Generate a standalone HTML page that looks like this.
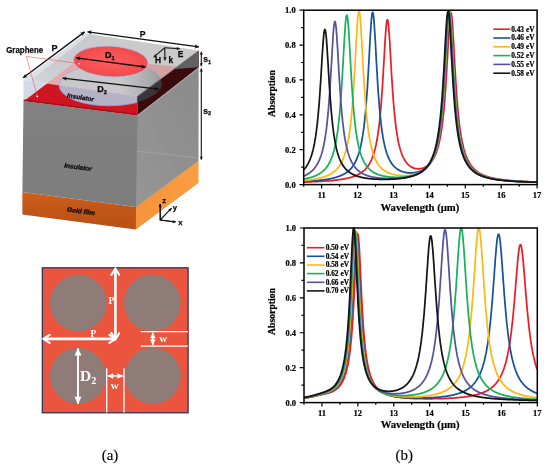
<!DOCTYPE html>
<html><head><meta charset="utf-8"><title>Figure</title>
<style>
html,body{margin:0;padding:0;background:#fff;}
body{width:550px;height:469px;overflow:hidden;}
svg{display:block;filter:blur(0.3px);}
</style></head><body>
<svg width="550" height="469" viewBox="0 0 550 469">
<rect width="550" height="469" fill="#fff"/>
<g id="fig3d">
<defs>
<linearGradient id="gR" x1="0" y1="1" x2="1" y2="0"><stop offset="0" stop-color="#969696"/><stop offset="0.5" stop-color="#909090"/><stop offset="1" stop-color="#8b8b8b"/></linearGradient>
<linearGradient id="gF" x1="0" y1="0" x2="0" y2="1"><stop offset="0" stop-color="#818181"/><stop offset="1" stop-color="#7d7d7d"/></linearGradient>
<linearGradient id="gGoldR" x1="0" y1="0" x2="1" y2="0"><stop offset="0" stop-color="#f5933a"/><stop offset="1" stop-color="#fa9d42"/></linearGradient>
<linearGradient id="gGoldF" x1="0" y1="0" x2="0" y2="1"><stop offset="0" stop-color="#d2601d"/><stop offset="0.45" stop-color="#c15617"/><stop offset="1" stop-color="#b95015"/></linearGradient>
<radialGradient id="gD1" cx="0.5" cy="0.5" r="0.6"><stop offset="0" stop-color="#ff5e5e"/><stop offset="1" stop-color="#ef4448"/></radialGradient>
<linearGradient id="gTop" x1="0" y1="1" x2="1" y2="0"><stop offset="0" stop-color="#dde2ea" stop-opacity="0.9"/><stop offset="0.35" stop-color="#d0d2d6" stop-opacity="0.3"/><stop offset="1" stop-color="#c6c6c6" stop-opacity="0"/></linearGradient>
<linearGradient id="gD2" gradientUnits="userSpaceOnUse" x1="120" y1="0" x2="165" y2="0"><stop offset="0" stop-color="#88888c" stop-opacity="0"/><stop offset="1" stop-color="#77777b" stop-opacity="0.6"/></linearGradient>
<clipPath id="cFront"><path d="M23.5,80 L137.5,96.2 L137.5,115.6 L23.5,100.9 Z"/></clipPath>
<clipPath id="cTop"><path d="M23.5,80 L85.5,33.6 L198.7,50.4 L137.5,96.2 Z"/></clipPath>
<clipPath id="cTopFront"><path d="M23.5,80 L85.5,33.6 L198.7,50.4 L137.5,96.2 L137.5,115.6 L23.5,100.9Z"/></clipPath>
<clipPath id="cSide"><path d="M137.5,96.2 L198.7,50.4 L198.7,67.3 L137.5,115.1 Z"/></clipPath>
<marker id="ab" viewBox="0 0 10 10" refX="9" refY="5" markerWidth="3.8" markerHeight="3.4" orient="auto-start-reverse" markerUnits="strokeWidth">
<path d="M0,0.5 L10,5 L0,9.5 L2.5,5 Z" fill="#111"/>
</marker>
</defs>
<!-- gold + gray block -->
<path d="M133,208.5 L135.9,206.8 L198.5,160.8 L198.5,183 L135.8,229.4 L133,228 Z" fill="url(#gGoldR)"/>
<path d="M22.4,192 L136,207 L135.8,229.4 L22.4,214.5 Z" fill="url(#gGoldF)"/>
<path d="M134,114 L137.5,115 L198.7,67.2 L198.5,160.9 L136,207.1 L134,207 Z" fill="url(#gR)"/>
<path d="M23.5,100.3 L137.5,115 L136,207.1 L22.4,192.1 Z" fill="url(#gF)"/>
<path d="M137,151 L198.6,158" stroke="#b5b5b5" stroke-width="0.6" fill="none" opacity="0.8"/>
<!-- glass front: bluish -->
<path d="M23.5,80 L137.5,96.2 L137.5,115.6 L23.5,100.9 Z" fill="#d2dae6"/>
<!-- top face -->
<path d="M23.5,80 L85.5,33.6 L198.7,50.4 L137.5,96.2 Z" fill="#cacacb"/>
<path d="M23.5,80 L85.5,33.6 L198.7,50.4 L137.5,96.2 Z" fill="url(#gTop)"/>
<path d="M23.5,80 L85.5,33.6 L88.6,35 L29.8,81 Z" fill="#dfe3ea" opacity="0.85"/>
<!-- bottom red layer seen through top (pink) -->
<g clip-path="url(#cTop)">
<path d="M26,99.5 L81.4,57.4 L199,68.7 L137.5,115.1 Z" fill="#d3a2a3"/>
<path d="M26,99.5 L81.4,57.4 L110,60 L80,100 Z" fill="#e8a9aa"/>
</g>
<!-- bottom red layer seen through front (red) -->
<g clip-path="url(#cFront)">
<path d="M26,99.5 L81.4,57.4 L199,68.7 L137.5,115.6 L23.5,100.9 Z" fill="#cf1522"/>
<path d="M23.5,100.9 L26,99.5 L137.5,115.6 Z" fill="#cf1522"/>
</g>
<path d="M23.5,99.6 L137.5,113.9 L137.5,115.6 L23.5,100.9 Z" fill="#a50f18" clip-path="url(#cFront)"/>
<!-- D2 ellipse (hole) -->
<g clip-path="url(#cTop)">
<ellipse cx="110.8" cy="84.5" rx="51.6" ry="21.3" transform="rotate(-1 110.8 84.5)" fill="#c8c7ca" stroke="#9db0dc" stroke-width="0.8"/>
<ellipse cx="110.8" cy="84.5" rx="51.6" ry="21.3" transform="rotate(-1 110.8 84.5)" fill="url(#gD2)"/>
</g>
<g clip-path="url(#cFront)">
<ellipse cx="110.8" cy="84.5" rx="51.6" ry="21.3" transform="rotate(-1 110.8 84.5)" fill="#b5b1c6" stroke="#93a6d6" stroke-width="0.8"/>
</g>
<path d="M23.5,80 L137.5,96.2" stroke="#e4e6ec" stroke-width="0.5" opacity="0.7"/>
<!-- right side of glass -->
<path d="M137.5,96.2 L198.7,50.4 L198.7,67.3 L137.5,115.1 Z" fill="#3b0a0c"/>
<g clip-path="url(#cSide)">
<path d="M198.7,50.4 L198.7,67.2 L172.5,69.3 Z" fill="#606062"/>
<ellipse cx="110.3" cy="84.3" rx="51.6" ry="21.3" transform="rotate(-1 110.3 84.3)" fill="#3a3a3e" opacity="0.9"/>
<path d="M137.5,96.4 L198.7,50.6" stroke="#8a8a8c" stroke-width="0.8"/>
</g>
<path d="M137.5,115.7 L198.7,67.9" stroke="#b2b2b2" stroke-width="0.8"/>
<!-- D1 ellipse -->
<ellipse cx="110.8" cy="61.5" rx="37.3" ry="15.3" transform="rotate(3 110.8 61.5)" fill="url(#gD1)" stroke="#a9bbe6" stroke-width="0.8"/>
<!-- arrows -->
<g stroke="#111" stroke-width="1.35" fill="none">
<line x1="23.2" y1="77.8" x2="84.6" y2="31.9" marker-start="url(#ab)" marker-end="url(#ab)"/>
<line x1="87.6" y1="31.8" x2="198.8" y2="46.9" marker-start="url(#ab)" marker-end="url(#ab)"/>
<line x1="76.2" y1="57.9" x2="145.4" y2="67" marker-start="url(#ab)" marker-end="url(#ab)"/>
<line x1="62.7" y1="78.2" x2="158.7" y2="89.2" marker-start="url(#ab)" marker-end="url(#ab)"/>
<line x1="201.3" y1="51.8" x2="201.3" y2="66.2" stroke-width="1.1" marker-start="url(#ab)" marker-end="url(#ab)"/>
<line x1="201.3" y1="68.6" x2="201.3" y2="159.6" stroke-width="1.1" marker-start="url(#ab)" marker-end="url(#ab)"/>
<g stroke-width="1.1">
<line x1="164.5" y1="47.8" x2="179.8" y2="48.7" marker-end="url(#ab)"/>
<line x1="164.7" y1="47.8" x2="165" y2="60.3" marker-end="url(#ab)"/>
<line x1="164.5" y1="47.8" x2="153.8" y2="57.2" marker-end="url(#ab)"/>
<path d="M160.2,204 V220 L175.5,222 M160.2,220 L171.5,208.2" marker-end="url(#ab)"/>
<line x1="160.2" y1="220" x2="160.2" y2="204" marker-end="url(#ab)"/>
<line x1="160.2" y1="220" x2="175.5" y2="222" marker-end="url(#ab)"/>
</g>
</g>
<!-- graphene pointers -->
<g stroke="#e85a5a" stroke-width="0.6" fill="none">
<path d="M26.4,56.4 L79,63.6 M26.4,56.4 L37.3,96.4"/>
</g>
<circle cx="79" cy="63.6" r="0.9" fill="#fff"/><circle cx="37.3" cy="96.4" r="0.9" fill="#fff"/>
<!-- labels -->
<g font-family="'Liberation Sans', sans-serif" font-weight="bold" fill="#0a0a0a" stroke="#0a0a0a" stroke-width="0.25">
<text x="6.2" y="53.2" font-size="9" textLength="37" lengthAdjust="spacingAndGlyphs">Graphene</text>
<text x="51.4" y="51.2" font-size="9">P</text>
<text x="139.8" y="36.5" font-size="8.6">P</text>
<text x="105" y="58.2" font-size="9">D<tspan font-size="5.8" dy="1.5">1</tspan></text>
<text x="97.3" y="92.2" font-size="9">D<tspan font-size="5.8" dy="1.5">2</tspan></text>
<text x="155" y="62.6" font-size="8.4">H</text>
<text x="168.6" y="62.6" font-size="8.4">k</text>
<text x="177.8" y="56.8" font-size="8.4">E</text>
<text x="203.3" y="62.3" font-size="8.5">s<tspan font-size="5.6" dy="1.3">1</tspan></text>
<text x="203.3" y="113.8" font-size="8.5">s<tspan font-size="5.6" dy="1.3">2</tspan></text>
<text x="162.3" y="202.6" font-size="7.6">z</text>
<text x="172.8" y="209.6" font-size="7.6">y</text>
<text x="178.2" y="224.6" font-size="7.6">x</text>
<g font-style="italic">
<text font-size="6.4" transform="translate(66.8,97.3) rotate(9)">Insulator</text>
<text font-size="6.6" transform="translate(64,167.6) rotate(7)">Insulator</text>
<text font-size="6.5" transform="translate(66.8,211.6) rotate(7.5)">Gold film</text>
</g>
</g>
</g>

<g id="fig2d">
<defs>
<marker id="aw" viewBox="0 0 10 10" refX="8" refY="5" markerWidth="10" markerHeight="10" orient="auto-start-reverse" markerUnits="userSpaceOnUse">
<path d="M2.4,1 L8.6,5 L2.4,9" fill="none" stroke="#fff" stroke-width="2.1" stroke-linecap="round" stroke-linejoin="miter"/>
</marker>
<marker id="aws" viewBox="0 0 10 10" refX="9" refY="5" markerWidth="4.6" markerHeight="4.6" orient="auto-start-reverse" markerUnits="strokeWidth">
<path d="M1,1 L9.5,5 L1,9 Z" fill="#fff"/>
</marker>
</defs>
<rect x="42.3" y="267.8" width="145.8" height="145" fill="#eb553e" stroke="#232a55" stroke-width="1.2"/>
<g fill="#8f7c79">
<circle cx="78.3" cy="303" r="28.4"/>
<circle cx="152.3" cy="302.8" r="28.4"/>
<circle cx="78" cy="375.9" r="28"/>
<circle cx="152.8" cy="375.9" r="28"/>
</g>
<g stroke="#fff" fill="none" stroke-linecap="butt">
<line x1="115.4" y1="269.3" x2="115.4" y2="338.6" stroke-width="2.6" marker-start="url(#aw)" marker-end="url(#aw)"/>
<line x1="44" y1="338.9" x2="115" y2="338.9" stroke-width="2.6" marker-start="url(#aw)" marker-end="url(#aw)"/>
<line x1="78" y1="348.5" x2="78" y2="403.8" stroke-width="1.9" marker-start="url(#aws)" marker-end="url(#aws)"/>
<path d="M140.7,331.7H188 M140.7,346.1H188" stroke-width="1.3"/>
<path d="M106.7,368.2V412.5 M124,368.2V412.5" stroke-width="1.3"/>
<line x1="152.8" y1="332.8" x2="152.8" y2="345" stroke-width="1.5" marker-start="url(#aws)" marker-end="url(#aws)"/>
<line x1="107.8" y1="375.9" x2="122.9" y2="375.9" stroke-width="1.5" marker-start="url(#aws)" marker-end="url(#aws)"/>
</g>
<g font-family="'Liberation Serif', serif" font-weight="bold" fill="#fff">
<text x="108.6" y="304" font-size="9.5">P</text>
<text x="90.4" y="337" font-size="9.5">P</text>
<text x="80" y="381" font-size="15.5">D<tspan font-size="10" dy="3">2</tspan></text>
<text x="163.3" y="342.2" font-size="11" text-anchor="middle">w</text>
<text x="114.8" y="389" font-size="11" text-anchor="middle">w</text>
</g>
</g>

<g>
<clipPath id="clip10"><rect x="303.7" y="9.2" width="233.4" height="175.4"/></clipPath>
<g clip-path="url(#clip10)" fill="none" stroke-width="1.75" stroke-linejoin="round">
<polyline stroke="#ee1c25" points="303.7,182.1 304.1,182.0 304.4,182.0 304.8,182.0 305.1,182.0 305.5,182.0 305.9,182.0 306.2,182.0 306.6,182.0 306.9,182.0 307.3,181.9 307.7,181.9 308.0,181.9 308.4,181.9 308.7,181.9 309.1,181.9 309.5,181.9 309.8,181.8 310.2,181.8 310.5,181.8 310.9,181.8 311.3,181.8 311.6,181.8 312.0,181.8 312.3,181.7 312.7,181.7 313.1,181.7 313.4,181.7 313.8,181.7 314.1,181.7 314.5,181.7 314.8,181.6 315.2,181.6 315.6,181.6 315.9,181.6 316.3,181.6 316.6,181.6 317.0,181.5 317.4,181.5 317.7,181.5 318.1,181.5 318.4,181.5 318.8,181.4 319.2,181.4 319.5,181.4 319.9,181.4 320.2,181.4 320.6,181.3 321.0,181.3 321.3,181.3 321.7,181.3 322.0,181.3 322.4,181.2 322.8,181.2 323.1,181.2 323.5,181.2 323.8,181.1 324.2,181.1 324.6,181.1 324.9,181.1 325.3,181.0 325.6,181.0 326.0,181.0 326.4,181.0 326.7,180.9 327.1,180.9 327.4,180.9 327.8,180.9 328.2,180.8 328.5,180.8 328.9,180.8 329.2,180.7 329.6,180.7 330.0,180.7 330.3,180.7 330.7,180.6 331.0,180.6 331.4,180.6 331.8,180.5 332.1,180.5 332.5,180.5 332.8,180.4 333.2,180.4 333.5,180.4 333.9,180.3 334.3,180.3 334.6,180.2 335.0,180.2 335.3,180.2 335.7,180.1 336.1,180.1 336.4,180.0 336.8,180.0 337.1,179.9 337.5,179.9 337.9,179.9 338.2,179.8 338.6,179.8 338.9,179.7 339.3,179.7 339.7,179.6 340.0,179.6 340.4,179.5 340.7,179.5 341.1,179.4 341.5,179.3 341.8,179.3 342.2,179.2 342.5,179.2 342.9,179.1 343.3,179.1 343.6,179.0 344.0,178.9 344.3,178.9 344.7,178.8 345.1,178.7 345.4,178.7 345.8,178.6 346.1,178.5 346.5,178.4 346.9,178.4 347.2,178.3 347.6,178.2 347.9,178.1 348.3,178.0 348.7,177.9 349.0,177.8 349.4,177.8 349.7,177.7 350.1,177.6 350.5,177.5 350.8,177.4 351.2,177.3 351.5,177.2 351.9,177.0 352.3,176.9 352.6,176.8 353.0,176.7 353.3,176.6 353.7,176.4 354.0,176.3 354.4,176.2 354.8,176.0 355.1,175.9 355.5,175.8 355.8,175.6 356.2,175.5 356.6,175.3 356.9,175.1 357.3,175.0 357.6,174.8 358.0,174.6 358.4,174.4 358.7,174.2 359.1,174.0 359.4,173.8 359.8,173.6 360.2,173.4 360.5,173.2 360.9,173.0 361.2,172.7 361.6,172.5 362.0,172.2 362.3,171.9 362.7,171.7 363.0,171.4 363.4,171.1 363.8,170.8 364.1,170.5 364.5,170.1 364.8,169.8 365.2,169.4 365.6,169.0 365.9,168.6 366.3,168.2 366.6,167.8 367.0,167.4 367.4,166.9 367.7,166.4 368.1,165.9 368.4,165.4 368.8,164.8 369.2,164.3 369.5,163.7 369.9,163.0 370.2,162.4 370.6,161.7 371.0,160.9 371.3,160.2 371.7,159.3 372.0,158.5 372.4,157.6 372.7,156.6 373.1,155.6 373.5,154.6 373.8,153.4 374.2,152.2 374.5,151.0 374.9,149.6 375.3,148.2 375.6,146.7 376.0,145.0 376.3,143.3 376.7,141.5 377.1,139.5 377.4,137.4 377.8,135.1 378.1,132.7 378.5,130.1 378.9,127.3 379.2,124.3 379.6,121.1 379.9,117.6 380.3,114.0 380.7,110.0 381.0,105.7 381.4,101.2 381.7,96.4 382.1,91.2 382.5,85.8 382.8,80.1 383.2,74.2 383.5,68.0 383.9,61.7 384.3,55.4 384.6,49.1 385.0,43.0 385.3,37.3 385.7,32.1 386.1,27.6 386.4,24.0 386.8,21.5 387.1,20.1 387.5,19.9 387.9,20.9 388.2,23.1 388.6,26.3 388.9,30.5 389.3,35.5 389.7,41.0 390.0,47.0 390.4,53.2 390.7,59.5 391.1,65.7 391.4,71.9 391.8,77.9 392.2,83.6 392.5,89.0 392.9,94.2 393.2,99.1 393.6,103.7 394.0,107.9 394.3,111.9 394.7,115.6 395.0,119.1 395.4,122.3 395.8,125.3 396.1,128.1 396.5,130.7 396.8,133.1 397.2,135.4 397.6,137.5 397.9,139.5 398.3,141.3 398.6,143.0 399.0,144.6 399.4,146.1 399.7,147.5 400.1,148.8 400.4,150.0 400.8,151.2 401.2,152.3 401.5,153.3 401.9,154.3 402.2,155.2 402.6,156.0 403.0,156.8 403.3,157.6 403.7,158.3 404.0,159.0 404.4,159.6 404.8,160.2 405.1,160.8 405.5,161.3 405.8,161.8 406.2,162.3 406.6,162.8 406.9,163.2 407.3,163.6 407.6,164.0 408.0,164.4 408.4,164.7 408.7,165.1 409.1,165.4 409.4,165.7 409.8,165.9 410.2,166.2 410.5,166.4 410.9,166.7 411.2,166.9 411.6,167.1 411.9,167.3 412.3,167.4 412.7,167.6 413.0,167.8 413.4,167.9 413.7,168.0 414.1,168.2 414.5,168.3 414.8,168.4 415.2,168.5 415.5,168.5 415.9,168.6 416.3,168.7 416.6,168.7 417.0,168.7 417.3,168.8 417.7,168.8 418.1,168.8 418.4,168.8 418.8,168.8 419.1,168.8 419.5,168.8 419.9,168.7 420.2,168.7 420.6,168.7 420.9,168.6 421.3,168.5 421.7,168.5 422.0,168.4 422.4,168.3 422.7,168.2 423.1,168.0 423.5,167.9 423.8,167.8 424.2,167.6 424.5,167.5 424.9,167.3 425.3,167.1 425.6,166.9 426.0,166.7 426.3,166.5 426.7,166.3 427.1,166.0 427.4,165.8 427.8,165.5 428.1,165.2 428.5,164.9 428.9,164.6 429.2,164.3 429.6,163.9 429.9,163.6 430.3,163.2 430.6,162.7 431.0,162.3 431.4,161.9 431.7,161.4 432.1,160.9 432.4,160.3 432.8,159.8 433.2,159.2 433.5,158.6 433.9,157.9 434.2,157.2 434.6,156.5 435.0,155.7 435.3,154.9 435.7,154.1 436.0,153.2 436.4,152.2 436.8,151.2 437.1,150.1 437.5,149.0 437.8,147.8 438.2,146.5 438.6,145.2 438.9,143.7 439.3,142.2 439.6,140.6 440.0,138.8 440.4,137.0 440.7,135.0 441.1,132.8 441.4,130.6 441.8,128.1 442.2,125.5 442.5,122.7 442.9,119.6 443.2,116.4 443.6,112.9 444.0,109.1 444.3,105.1 444.7,100.7 445.0,96.1 445.4,91.1 445.8,85.9 446.1,80.3 446.5,74.4 446.8,68.2 447.2,61.8 447.6,55.2 447.9,48.6 448.3,42.1 448.6,35.8 449.0,29.8 449.4,24.5 449.7,20.0 450.1,16.4 450.4,14.0 450.8,12.9 451.1,13.1 451.5,14.6 451.9,17.4 452.2,21.2 452.6,26.0 452.9,31.6 453.3,37.7 453.7,44.1 454.0,50.7 454.4,57.4 454.7,63.9 455.1,70.3 455.5,76.5 455.8,82.3 456.2,87.9 456.5,93.1 456.9,98.0 457.3,102.6 457.6,106.9 458.0,110.9 458.3,114.7 458.7,118.2 459.1,121.4 459.4,124.4 459.8,127.2 460.1,129.9 460.5,132.3 460.9,134.6 461.2,136.7 461.6,138.7 461.9,140.6 462.3,142.4 462.7,144.0 463.0,145.6 463.4,147.1 463.7,148.4 464.1,149.8 464.5,151.0 464.8,152.2 465.2,153.3 465.5,154.3 465.9,155.3 466.3,156.2 466.6,157.1 467.0,158.0 467.3,158.8 467.7,159.6 468.1,160.3 468.4,161.0 468.8,161.7 469.1,162.3 469.5,163.0 469.8,163.5 470.2,164.1 470.6,164.6 470.9,165.2 471.3,165.7 471.6,166.1 472.0,166.6 472.4,167.0 472.7,167.5 473.1,167.9 473.4,168.3 473.8,168.6 474.2,169.0 474.5,169.4 474.9,169.7 475.2,170.0 475.6,170.3 476.0,170.6 476.3,170.9 476.7,171.2 477.0,171.5 477.4,171.8 477.8,172.0 478.1,172.3 478.5,172.5 478.8,172.7 479.2,173.0 479.6,173.2 479.9,173.4 480.3,173.6 480.6,173.8 481.0,174.0 481.4,174.2 481.7,174.3 482.1,174.5 482.4,174.7 482.8,174.9 483.2,175.0 483.5,175.2 483.9,175.3 484.2,175.5 484.6,175.6 485.0,175.8 485.3,175.9 485.7,176.0 486.0,176.2 486.4,176.3 486.8,176.4 487.1,176.5 487.5,176.7 487.8,176.8 488.2,176.9 488.5,177.0 488.9,177.1 489.3,177.2 489.6,177.3 490.0,177.4 490.3,177.5 490.7,177.6 491.1,177.7 491.4,177.8 491.8,177.9 492.1,177.9 492.5,178.0 492.9,178.1 493.2,178.2 493.6,178.3 493.9,178.3 494.3,178.4 494.7,178.5 495.0,178.6 495.4,178.6 495.7,178.7 496.1,178.8 496.5,178.8 496.8,178.9 497.2,179.0 497.5,179.0 497.9,179.1 498.3,179.1 498.6,179.2 499.0,179.2 499.3,179.3 499.7,179.4 500.1,179.4 500.4,179.5 500.8,179.5 501.1,179.6 501.5,179.6 501.9,179.7 502.2,179.7 502.6,179.8 502.9,179.8 503.3,179.8 503.7,179.9 504.0,179.9 504.4,180.0 504.7,180.0 505.1,180.1 505.5,180.1 505.8,180.1 506.2,180.2 506.5,180.2 506.9,180.3 507.3,180.3 507.6,180.3 508.0,180.4 508.3,180.4 508.7,180.4 509.0,180.5 509.4,180.5 509.8,180.5 510.1,180.6 510.5,180.6 510.8,180.6 511.2,180.7 511.6,180.7 511.9,180.7 512.3,180.7 512.6,180.8 513.0,180.8 513.4,180.8 513.7,180.9 514.1,180.9 514.4,180.9 514.8,180.9 515.2,181.0 515.5,181.0 515.9,181.0 516.2,181.0 516.6,181.1 517.0,181.1 517.3,181.1 517.7,181.1 518.0,181.2 518.4,181.2 518.8,181.2 519.1,181.2 519.5,181.2 519.8,181.3 520.2,181.3 520.6,181.3 520.9,181.3 521.3,181.4 521.6,181.4 522.0,181.4 522.4,181.4 522.7,181.4 523.1,181.4 523.4,181.5 523.8,181.5 524.2,181.5 524.5,181.5 524.9,181.5 525.2,181.6 525.6,181.6 526.0,181.6 526.3,181.6 526.7,181.6 527.0,181.6 527.4,181.7 527.7,181.7 528.1,181.7 528.5,181.7 528.8,181.7 529.2,181.7 529.5,181.7 529.9,181.8 530.3,181.8 530.6,181.8 531.0,181.8 531.3,181.8 531.7,181.8 532.1,181.8 532.4,181.9 532.8,181.9 533.1,181.9 533.5,181.9 533.9,181.9 534.2,181.9 534.6,181.9 534.9,181.9 535.3,182.0 535.7,182.0 536.0,182.0 536.4,182.0 536.7,182.0 537.1,182.0"/>
<polyline stroke="#17529c" points="303.7,181.5 304.1,181.5 304.4,181.4 304.8,181.4 305.1,181.4 305.5,181.4 305.9,181.4 306.2,181.3 306.6,181.3 306.9,181.3 307.3,181.3 307.7,181.2 308.0,181.2 308.4,181.2 308.7,181.2 309.1,181.2 309.5,181.1 309.8,181.1 310.2,181.1 310.5,181.1 310.9,181.0 311.3,181.0 311.6,181.0 312.0,180.9 312.3,180.9 312.7,180.9 313.1,180.9 313.4,180.8 313.8,180.8 314.1,180.8 314.5,180.8 314.8,180.7 315.2,180.7 315.6,180.7 315.9,180.6 316.3,180.6 316.6,180.6 317.0,180.5 317.4,180.5 317.7,180.5 318.1,180.4 318.4,180.4 318.8,180.3 319.2,180.3 319.5,180.3 319.9,180.2 320.2,180.2 320.6,180.2 321.0,180.1 321.3,180.1 321.7,180.0 322.0,180.0 322.4,179.9 322.8,179.9 323.1,179.8 323.5,179.8 323.8,179.8 324.2,179.7 324.6,179.7 324.9,179.6 325.3,179.5 325.6,179.5 326.0,179.4 326.4,179.4 326.7,179.3 327.1,179.3 327.4,179.2 327.8,179.1 328.2,179.1 328.5,179.0 328.9,179.0 329.2,178.9 329.6,178.8 330.0,178.8 330.3,178.7 330.7,178.6 331.0,178.5 331.4,178.5 331.8,178.4 332.1,178.3 332.5,178.2 332.8,178.1 333.2,178.1 333.5,178.0 333.9,177.9 334.3,177.8 334.6,177.7 335.0,177.6 335.3,177.5 335.7,177.4 336.1,177.3 336.4,177.2 336.8,177.1 337.1,177.0 337.5,176.8 337.9,176.7 338.2,176.6 338.6,176.5 338.9,176.3 339.3,176.2 339.7,176.1 340.0,175.9 340.4,175.8 340.7,175.6 341.1,175.5 341.5,175.3 341.8,175.2 342.2,175.0 342.5,174.8 342.9,174.6 343.3,174.5 343.6,174.3 344.0,174.1 344.3,173.9 344.7,173.7 345.1,173.4 345.4,173.2 345.8,173.0 346.1,172.8 346.5,172.5 346.9,172.2 347.2,172.0 347.6,171.7 347.9,171.4 348.3,171.1 348.7,170.8 349.0,170.5 349.4,170.2 349.7,169.8 350.1,169.5 350.5,169.1 350.8,168.7 351.2,168.3 351.5,167.9 351.9,167.4 352.3,167.0 352.6,166.5 353.0,166.0 353.3,165.5 353.7,164.9 354.0,164.3 354.4,163.7 354.8,163.1 355.1,162.5 355.5,161.8 355.8,161.0 356.2,160.3 356.6,159.5 356.9,158.6 357.3,157.7 357.6,156.8 358.0,155.8 358.4,154.7 358.7,153.6 359.1,152.5 359.4,151.2 359.8,149.9 360.2,148.5 360.5,147.0 360.9,145.4 361.2,143.7 361.6,141.9 362.0,140.0 362.3,137.9 362.7,135.7 363.0,133.4 363.4,130.8 363.8,128.1 364.1,125.2 364.5,122.1 364.8,118.7 365.2,115.1 365.6,111.3 365.9,107.1 366.3,102.7 366.6,98.0 367.0,92.9 367.4,87.6 367.7,81.9 368.1,75.9 368.4,69.7 368.8,63.2 369.2,56.6 369.5,50.0 369.9,43.4 370.2,37.0 370.6,31.0 371.0,25.5 371.3,20.7 371.7,16.9 372.0,14.2 372.4,12.6 372.7,12.3 373.1,13.4 373.5,15.6 373.8,19.0 374.2,23.3 374.5,28.5 374.9,34.3 375.3,40.5 375.6,47.0 376.0,53.7 376.3,60.3 376.7,66.8 377.1,73.1 377.4,79.1 377.8,84.9 378.1,90.3 378.5,95.5 378.9,100.3 379.2,104.9 379.6,109.1 379.9,113.0 380.3,116.7 380.7,120.1 381.0,123.3 381.4,126.3 381.7,129.0 382.1,131.6 382.5,134.0 382.8,136.2 383.2,138.3 383.5,140.3 383.9,142.1 384.3,143.8 384.6,145.4 385.0,146.9 385.3,148.3 385.7,149.6 386.1,150.9 386.4,152.1 386.8,153.2 387.1,154.2 387.5,155.2 387.9,156.1 388.2,157.0 388.6,157.8 388.9,158.6 389.3,159.3 389.7,160.1 390.0,160.7 390.4,161.4 390.7,162.0 391.1,162.5 391.4,163.1 391.8,163.6 392.2,164.1 392.5,164.6 392.9,165.0 393.2,165.4 393.6,165.9 394.0,166.2 394.3,166.6 394.7,167.0 395.0,167.3 395.4,167.6 395.8,167.9 396.1,168.2 396.5,168.5 396.8,168.8 397.2,169.0 397.6,169.3 397.9,169.5 398.3,169.7 398.6,169.9 399.0,170.1 399.4,170.3 399.7,170.5 400.1,170.7 400.4,170.9 400.8,171.0 401.2,171.2 401.5,171.3 401.9,171.4 402.2,171.6 402.6,171.7 403.0,171.8 403.3,171.9 403.7,172.0 404.0,172.1 404.4,172.2 404.8,172.3 405.1,172.4 405.5,172.4 405.8,172.5 406.2,172.6 406.6,172.6 406.9,172.7 407.3,172.7 407.6,172.8 408.0,172.8 408.4,172.8 408.7,172.9 409.1,172.9 409.4,172.9 409.8,172.9 410.2,172.9 410.5,172.9 410.9,172.9 411.2,172.9 411.6,172.9 411.9,172.9 412.3,172.9 412.7,172.8 413.0,172.8 413.4,172.8 413.7,172.7 414.1,172.7 414.5,172.6 414.8,172.6 415.2,172.5 415.5,172.5 415.9,172.4 416.3,172.3 416.6,172.2 417.0,172.2 417.3,172.1 417.7,172.0 418.1,171.9 418.4,171.8 418.8,171.6 419.1,171.5 419.5,171.4 419.9,171.3 420.2,171.1 420.6,171.0 420.9,170.8 421.3,170.7 421.7,170.5 422.0,170.3 422.4,170.1 422.7,169.9 423.1,169.7 423.5,169.5 423.8,169.3 424.2,169.1 424.5,168.8 424.9,168.6 425.3,168.3 425.6,168.0 426.0,167.7 426.3,167.4 426.7,167.1 427.1,166.8 427.4,166.4 427.8,166.1 428.1,165.7 428.5,165.3 428.9,164.9 429.2,164.5 429.6,164.0 429.9,163.6 430.3,163.1 430.6,162.6 431.0,162.0 431.4,161.5 431.7,160.9 432.1,160.2 432.4,159.6 432.8,158.9 433.2,158.2 433.5,157.4 433.9,156.6 434.2,155.8 434.6,154.9 435.0,154.0 435.3,153.0 435.7,152.0 436.0,150.9 436.4,149.7 436.8,148.5 437.1,147.2 437.5,145.8 437.8,144.3 438.2,142.7 438.6,141.1 438.9,139.3 439.3,137.4 439.6,135.3 440.0,133.2 440.4,130.9 440.7,128.4 441.1,125.7 441.4,122.8 441.8,119.8 442.2,116.5 442.5,112.9 442.9,109.1 443.2,105.0 443.6,100.6 444.0,95.9 444.3,90.9 444.7,85.6 445.0,79.9 445.4,73.9 445.8,67.7 446.1,61.2 446.5,54.6 446.8,47.9 447.2,41.3 447.6,34.9 447.9,28.9 448.3,23.5 448.6,18.9 449.0,15.3 449.4,12.8 449.7,11.7 450.1,11.9 450.4,13.4 450.8,16.1 451.1,20.0 451.5,24.9 451.9,30.5 452.2,36.6 452.6,43.1 452.9,49.8 453.3,56.5 453.7,63.1 454.0,69.6 454.4,75.8 454.7,81.7 455.1,87.3 455.5,92.6 455.8,97.6 456.2,102.2 456.5,106.5 456.9,110.6 457.3,114.3 457.6,117.9 458.0,121.1 458.3,124.2 458.7,127.0 459.1,129.7 459.4,132.1 459.8,134.4 460.1,136.6 460.5,138.6 460.9,140.5 461.2,142.3 461.6,144.0 461.9,145.5 462.3,147.0 462.7,148.4 463.0,149.7 463.4,151.0 463.7,152.1 464.1,153.2 464.5,154.3 464.8,155.3 465.2,156.3 465.5,157.2 465.9,158.0 466.3,158.8 466.6,159.6 467.0,160.4 467.3,161.1 467.7,161.7 468.1,162.4 468.4,163.0 468.8,163.6 469.1,164.2 469.5,164.7 469.8,165.2 470.2,165.7 470.6,166.2 470.9,166.7 471.3,167.1 471.6,167.5 472.0,167.9 472.4,168.3 472.7,168.7 473.1,169.1 473.4,169.4 473.8,169.8 474.2,170.1 474.5,170.4 474.9,170.7 475.2,171.0 475.6,171.3 476.0,171.6 476.3,171.8 476.7,172.1 477.0,172.3 477.4,172.6 477.8,172.8 478.1,173.0 478.5,173.3 478.8,173.5 479.2,173.7 479.6,173.9 479.9,174.1 480.3,174.2 480.6,174.4 481.0,174.6 481.4,174.8 481.7,174.9 482.1,175.1 482.4,175.3 482.8,175.4 483.2,175.6 483.5,175.7 483.9,175.8 484.2,176.0 484.6,176.1 485.0,176.2 485.3,176.4 485.7,176.5 486.0,176.6 486.4,176.7 486.8,176.8 487.1,177.0 487.5,177.1 487.8,177.2 488.2,177.3 488.5,177.4 488.9,177.5 489.3,177.6 489.6,177.7 490.0,177.8 490.3,177.8 490.7,177.9 491.1,178.0 491.4,178.1 491.8,178.2 492.1,178.3 492.5,178.3 492.9,178.4 493.2,178.5 493.6,178.6 493.9,178.6 494.3,178.7 494.7,178.8 495.0,178.8 495.4,178.9 495.7,179.0 496.1,179.0 496.5,179.1 496.8,179.1 497.2,179.2 497.5,179.3 497.9,179.3 498.3,179.4 498.6,179.4 499.0,179.5 499.3,179.5 499.7,179.6 500.1,179.6 500.4,179.7 500.8,179.7 501.1,179.8 501.5,179.8 501.9,179.9 502.2,179.9 502.6,179.9 502.9,180.0 503.3,180.0 503.7,180.1 504.0,180.1 504.4,180.2 504.7,180.2 505.1,180.2 505.5,180.3 505.8,180.3 506.2,180.3 506.5,180.4 506.9,180.4 507.3,180.5 507.6,180.5 508.0,180.5 508.3,180.6 508.7,180.6 509.0,180.6 509.4,180.6 509.8,180.7 510.1,180.7 510.5,180.7 510.8,180.8 511.2,180.8 511.6,180.8 511.9,180.9 512.3,180.9 512.6,180.9 513.0,180.9 513.4,181.0 513.7,181.0 514.1,181.0 514.4,181.0 514.8,181.1 515.2,181.1 515.5,181.1 515.9,181.1 516.2,181.2 516.6,181.2 517.0,181.2 517.3,181.2 517.7,181.2 518.0,181.3 518.4,181.3 518.8,181.3 519.1,181.3 519.5,181.3 519.8,181.4 520.2,181.4 520.6,181.4 520.9,181.4 521.3,181.4 521.6,181.5 522.0,181.5 522.4,181.5 522.7,181.5 523.1,181.5 523.4,181.6 523.8,181.6 524.2,181.6 524.5,181.6 524.9,181.6 525.2,181.6 525.6,181.7 526.0,181.7 526.3,181.7 526.7,181.7 527.0,181.7 527.4,181.7 527.7,181.7 528.1,181.8 528.5,181.8 528.8,181.8 529.2,181.8 529.5,181.8 529.9,181.8 530.3,181.8 530.6,181.9 531.0,181.9 531.3,181.9 531.7,181.9 532.1,181.9 532.4,181.9 532.8,181.9 533.1,181.9 533.5,182.0 533.9,182.0 534.2,182.0 534.6,182.0 534.9,182.0 535.3,182.0 535.7,182.0 536.0,182.0 536.4,182.1 536.7,182.1 537.1,182.1"/>
<polyline stroke="#fdb813" points="303.7,180.6 304.1,180.5 304.4,180.5 304.8,180.4 305.1,180.4 305.5,180.4 305.9,180.3 306.2,180.3 306.6,180.3 306.9,180.2 307.3,180.2 307.7,180.1 308.0,180.1 308.4,180.0 308.7,180.0 309.1,180.0 309.5,179.9 309.8,179.9 310.2,179.8 310.5,179.8 310.9,179.7 311.3,179.7 311.6,179.6 312.0,179.6 312.3,179.5 312.7,179.5 313.1,179.4 313.4,179.3 313.8,179.3 314.1,179.2 314.5,179.2 314.8,179.1 315.2,179.0 315.6,179.0 315.9,178.9 316.3,178.8 316.6,178.8 317.0,178.7 317.4,178.6 317.7,178.5 318.1,178.5 318.4,178.4 318.8,178.3 319.2,178.2 319.5,178.1 319.9,178.0 320.2,178.0 320.6,177.9 321.0,177.8 321.3,177.7 321.7,177.6 322.0,177.5 322.4,177.4 322.8,177.3 323.1,177.2 323.5,177.0 323.8,176.9 324.2,176.8 324.6,176.7 324.9,176.6 325.3,176.4 325.6,176.3 326.0,176.2 326.4,176.0 326.7,175.9 327.1,175.7 327.4,175.6 327.8,175.4 328.2,175.3 328.5,175.1 328.9,174.9 329.2,174.7 329.6,174.5 330.0,174.4 330.3,174.2 330.7,174.0 331.0,173.7 331.4,173.5 331.8,173.3 332.1,173.1 332.5,172.8 332.8,172.6 333.2,172.3 333.5,172.1 333.9,171.8 334.3,171.5 334.6,171.2 335.0,170.9 335.3,170.6 335.7,170.2 336.1,169.9 336.4,169.5 336.8,169.2 337.1,168.8 337.5,168.4 337.9,167.9 338.2,167.5 338.6,167.0 338.9,166.6 339.3,166.0 339.7,165.5 340.0,165.0 340.4,164.4 340.7,163.8 341.1,163.2 341.5,162.5 341.8,161.8 342.2,161.1 342.5,160.3 342.9,159.5 343.3,158.7 343.6,157.8 344.0,156.8 344.3,155.8 344.7,154.8 345.1,153.6 345.4,152.5 345.8,151.2 346.1,149.9 346.5,148.5 346.9,147.0 347.2,145.4 347.6,143.7 347.9,141.9 348.3,139.9 348.7,137.9 349.0,135.6 349.4,133.3 349.7,130.7 350.1,128.0 350.5,125.1 350.8,121.9 351.2,118.6 351.5,115.0 351.9,111.1 352.3,106.9 352.6,102.5 353.0,97.7 353.3,92.6 353.7,87.2 354.0,81.5 354.4,75.5 354.8,69.2 355.1,62.7 355.5,56.1 355.8,49.3 356.2,42.7 356.6,36.2 356.9,30.1 357.3,24.5 357.6,19.7 358.0,15.8 358.4,12.9 358.7,11.3 359.1,10.9 359.4,11.9 359.8,14.1 360.2,17.4 360.5,21.8 360.9,27.0 361.2,32.8 361.6,39.1 362.0,45.7 362.3,52.4 362.7,59.0 363.0,65.6 363.4,72.0 363.8,78.1 364.1,84.0 364.5,89.5 364.8,94.8 365.2,99.7 365.6,104.3 365.9,108.6 366.3,112.6 366.6,116.3 367.0,119.8 367.4,123.0 367.7,126.1 368.1,128.9 368.4,131.5 368.8,133.9 369.2,136.2 369.5,138.3 369.9,140.3 370.2,142.2 370.6,143.9 371.0,145.6 371.3,147.1 371.7,148.5 372.0,149.9 372.4,151.1 372.7,152.3 373.1,153.5 373.5,154.5 373.8,155.5 374.2,156.5 374.5,157.4 374.9,158.3 375.3,159.1 375.6,159.8 376.0,160.6 376.3,161.3 376.7,161.9 377.1,162.5 377.4,163.1 377.8,163.7 378.1,164.2 378.5,164.8 378.9,165.2 379.2,165.7 379.6,166.2 379.9,166.6 380.3,167.0 380.7,167.4 381.0,167.8 381.4,168.1 381.7,168.5 382.1,168.8 382.5,169.1 382.8,169.4 383.2,169.7 383.5,170.0 383.9,170.2 384.3,170.5 384.6,170.8 385.0,171.0 385.3,171.2 385.7,171.4 386.1,171.6 386.4,171.8 386.8,172.0 387.1,172.2 387.5,172.4 387.9,172.6 388.2,172.7 388.6,172.9 388.9,173.0 389.3,173.2 389.7,173.3 390.0,173.5 390.4,173.6 390.7,173.7 391.1,173.8 391.4,173.9 391.8,174.0 392.2,174.1 392.5,174.2 392.9,174.3 393.2,174.4 393.6,174.5 394.0,174.6 394.3,174.7 394.7,174.7 395.0,174.8 395.4,174.9 395.8,175.0 396.1,175.0 396.5,175.1 396.8,175.1 397.2,175.2 397.6,175.2 397.9,175.3 398.3,175.3 398.6,175.3 399.0,175.4 399.4,175.4 399.7,175.4 400.1,175.5 400.4,175.5 400.8,175.5 401.2,175.5 401.5,175.5 401.9,175.6 402.2,175.6 402.6,175.6 403.0,175.6 403.3,175.6 403.7,175.6 404.0,175.6 404.4,175.6 404.8,175.6 405.1,175.6 405.5,175.5 405.8,175.5 406.2,175.5 406.6,175.5 406.9,175.5 407.3,175.4 407.6,175.4 408.0,175.4 408.4,175.3 408.7,175.3 409.1,175.3 409.4,175.2 409.8,175.2 410.2,175.1 410.5,175.1 410.9,175.0 411.2,175.0 411.6,174.9 411.9,174.8 412.3,174.8 412.7,174.7 413.0,174.6 413.4,174.5 413.7,174.4 414.1,174.4 414.5,174.3 414.8,174.2 415.2,174.1 415.5,174.0 415.9,173.9 416.3,173.7 416.6,173.6 417.0,173.5 417.3,173.4 417.7,173.2 418.1,173.1 418.4,173.0 418.8,172.8 419.1,172.7 419.5,172.5 419.9,172.3 420.2,172.2 420.6,172.0 420.9,171.8 421.3,171.6 421.7,171.4 422.0,171.2 422.4,171.0 422.7,170.8 423.1,170.5 423.5,170.3 423.8,170.0 424.2,169.8 424.5,169.5 424.9,169.2 425.3,168.9 425.6,168.6 426.0,168.3 426.3,168.0 426.7,167.6 427.1,167.2 427.4,166.9 427.8,166.5 428.1,166.1 428.5,165.6 428.9,165.2 429.2,164.7 429.6,164.3 429.9,163.7 430.3,163.2 430.6,162.7 431.0,162.1 431.4,161.5 431.7,160.8 432.1,160.2 432.4,159.5 432.8,158.7 433.2,158.0 433.5,157.2 433.9,156.3 434.2,155.4 434.6,154.5 435.0,153.5 435.3,152.4 435.7,151.3 436.0,150.1 436.4,148.9 436.8,147.5 437.1,146.1 437.5,144.7 437.8,143.1 438.2,141.4 438.6,139.6 438.9,137.7 439.3,135.6 439.6,133.4 440.0,131.1 440.4,128.6 440.7,125.9 441.1,123.0 441.4,119.9 441.8,116.6 442.2,113.0 442.5,109.2 442.9,105.1 443.2,100.7 443.6,95.9 444.0,90.9 444.3,85.5 444.7,79.8 445.0,73.8 445.4,67.5 445.8,61.0 446.1,54.3 446.5,47.6 446.8,40.9 447.2,34.5 447.6,28.5 447.9,23.0 448.3,18.4 448.6,14.8 449.0,12.3 449.4,11.2 449.7,11.3 450.1,12.9 450.4,15.6 450.8,19.5 451.1,24.4 451.5,30.0 451.9,36.2 452.2,42.7 452.6,49.4 452.9,56.1 453.3,62.8 453.7,69.3 454.0,75.5 454.4,81.5 454.7,87.1 455.1,92.4 455.5,97.4 455.8,102.1 456.2,106.4 456.5,110.5 456.9,114.3 457.3,117.8 457.6,121.1 458.0,124.1 458.3,127.0 458.7,129.6 459.1,132.1 459.4,134.4 459.8,136.6 460.1,138.6 460.5,140.5 460.9,142.3 461.2,144.0 461.6,145.6 461.9,147.1 462.3,148.4 462.7,149.8 463.0,151.0 463.4,152.2 463.7,153.3 464.1,154.4 464.5,155.4 464.8,156.3 465.2,157.2 465.5,158.1 465.9,158.9 466.3,159.7 466.6,160.4 467.0,161.1 467.3,161.8 467.7,162.5 468.1,163.1 468.4,163.7 468.8,164.3 469.1,164.8 469.5,165.3 469.8,165.8 470.2,166.3 470.6,166.8 470.9,167.2 471.3,167.6 471.6,168.0 472.0,168.4 472.4,168.8 472.7,169.2 473.1,169.5 473.4,169.9 473.8,170.2 474.2,170.5 474.5,170.8 474.9,171.1 475.2,171.4 475.6,171.7 476.0,171.9 476.3,172.2 476.7,172.4 477.0,172.7 477.4,172.9 477.8,173.1 478.1,173.3 478.5,173.6 478.8,173.8 479.2,174.0 479.6,174.2 479.9,174.3 480.3,174.5 480.6,174.7 481.0,174.9 481.4,175.0 481.7,175.2 482.1,175.4 482.4,175.5 482.8,175.7 483.2,175.8 483.5,175.9 483.9,176.1 484.2,176.2 484.6,176.3 485.0,176.5 485.3,176.6 485.7,176.7 486.0,176.8 486.4,176.9 486.8,177.0 487.1,177.1 487.5,177.3 487.8,177.4 488.2,177.5 488.5,177.6 488.9,177.6 489.3,177.7 489.6,177.8 490.0,177.9 490.3,178.0 490.7,178.1 491.1,178.2 491.4,178.3 491.8,178.3 492.1,178.4 492.5,178.5 492.9,178.6 493.2,178.6 493.6,178.7 493.9,178.8 494.3,178.8 494.7,178.9 495.0,179.0 495.4,179.0 495.7,179.1 496.1,179.2 496.5,179.2 496.8,179.3 497.2,179.3 497.5,179.4 497.9,179.4 498.3,179.5 498.6,179.5 499.0,179.6 499.3,179.6 499.7,179.7 500.1,179.7 500.4,179.8 500.8,179.8 501.1,179.9 501.5,179.9 501.9,180.0 502.2,180.0 502.6,180.1 502.9,180.1 503.3,180.1 503.7,180.2 504.0,180.2 504.4,180.3 504.7,180.3 505.1,180.3 505.5,180.4 505.8,180.4 506.2,180.4 506.5,180.5 506.9,180.5 507.3,180.5 507.6,180.6 508.0,180.6 508.3,180.6 508.7,180.7 509.0,180.7 509.4,180.7 509.8,180.8 510.1,180.8 510.5,180.8 510.8,180.8 511.2,180.9 511.6,180.9 511.9,180.9 512.3,181.0 512.6,181.0 513.0,181.0 513.4,181.0 513.7,181.1 514.1,181.1 514.4,181.1 514.8,181.1 515.2,181.2 515.5,181.2 515.9,181.2 516.2,181.2 516.6,181.2 517.0,181.3 517.3,181.3 517.7,181.3 518.0,181.3 518.4,181.4 518.8,181.4 519.1,181.4 519.5,181.4 519.8,181.4 520.2,181.5 520.6,181.5 520.9,181.5 521.3,181.5 521.6,181.5 522.0,181.5 522.4,181.6 522.7,181.6 523.1,181.6 523.4,181.6 523.8,181.6 524.2,181.6 524.5,181.7 524.9,181.7 525.2,181.7 525.6,181.7 526.0,181.7 526.3,181.7 526.7,181.8 527.0,181.8 527.4,181.8 527.7,181.8 528.1,181.8 528.5,181.8 528.8,181.8 529.2,181.9 529.5,181.9 529.9,181.9 530.3,181.9 530.6,181.9 531.0,181.9 531.3,181.9 531.7,181.9 532.1,182.0 532.4,182.0 532.8,182.0 533.1,182.0 533.5,182.0 533.9,182.0 534.2,182.0 534.6,182.0 534.9,182.1 535.3,182.1 535.7,182.1 536.0,182.1 536.4,182.1 536.7,182.1 537.1,182.1"/>
<polyline stroke="#18b25a" points="303.7,179.1 304.1,179.0 304.4,178.9 304.8,178.9 305.1,178.8 305.5,178.7 305.9,178.7 306.2,178.6 306.6,178.5 306.9,178.4 307.3,178.3 307.7,178.3 308.0,178.2 308.4,178.1 308.7,178.0 309.1,177.9 309.5,177.8 309.8,177.7 310.2,177.6 310.5,177.5 310.9,177.4 311.3,177.3 311.6,177.2 312.0,177.1 312.3,176.9 312.7,176.8 313.1,176.7 313.4,176.6 313.8,176.4 314.1,176.3 314.5,176.1 314.8,176.0 315.2,175.9 315.6,175.7 315.9,175.5 316.3,175.4 316.6,175.2 317.0,175.0 317.4,174.9 317.7,174.7 318.1,174.5 318.4,174.3 318.8,174.1 319.2,173.9 319.5,173.7 319.9,173.4 320.2,173.2 320.6,173.0 321.0,172.7 321.3,172.4 321.7,172.2 322.0,171.9 322.4,171.6 322.8,171.3 323.1,171.0 323.5,170.7 323.8,170.3 324.2,170.0 324.6,169.6 324.9,169.2 325.3,168.8 325.6,168.4 326.0,168.0 326.4,167.6 326.7,167.1 327.1,166.6 327.4,166.1 327.8,165.6 328.2,165.0 328.5,164.4 328.9,163.8 329.2,163.1 329.6,162.5 330.0,161.8 330.3,161.0 330.7,160.2 331.0,159.4 331.4,158.5 331.8,157.6 332.1,156.6 332.5,155.6 332.8,154.5 333.2,153.4 333.5,152.2 333.9,150.9 334.3,149.5 334.6,148.0 335.0,146.5 335.3,144.8 335.7,143.1 336.1,141.2 336.4,139.2 336.8,137.0 337.1,134.7 337.5,132.2 337.9,129.6 338.2,126.7 338.6,123.7 338.9,120.4 339.3,116.9 339.7,113.1 340.0,109.1 340.4,104.7 340.7,100.1 341.1,95.2 341.5,89.9 341.8,84.3 342.2,78.5 342.5,72.4 342.9,66.0 343.3,59.5 343.6,53.0 344.0,46.4 344.3,40.1 344.7,34.1 345.1,28.6 345.4,23.9 345.8,20.0 346.1,17.2 346.5,15.5 346.9,15.1 347.2,16.0 347.6,18.1 347.9,21.3 348.3,25.5 348.7,30.5 349.0,36.2 349.4,42.3 349.7,48.7 350.1,55.3 350.5,61.8 350.8,68.2 351.2,74.5 351.5,80.5 351.9,86.3 352.3,91.7 352.6,96.8 353.0,101.6 353.3,106.1 353.7,110.4 354.0,114.3 354.4,118.0 354.8,121.4 355.1,124.6 355.5,127.5 355.8,130.3 356.2,132.8 356.6,135.2 356.9,137.5 357.3,139.6 357.6,141.5 358.0,143.3 358.4,145.1 358.7,146.7 359.1,148.2 359.4,149.6 359.8,150.9 360.2,152.2 360.5,153.3 360.9,154.5 361.2,155.5 361.6,156.5 362.0,157.4 362.3,158.3 362.7,159.2 363.0,160.0 363.4,160.7 363.8,161.4 364.1,162.1 364.5,162.8 364.8,163.4 365.2,164.0 365.6,164.5 365.9,165.1 366.3,165.6 366.6,166.1 367.0,166.5 367.4,167.0 367.7,167.4 368.1,167.8 368.4,168.2 368.8,168.6 369.2,168.9 369.5,169.3 369.9,169.6 370.2,169.9 370.6,170.2 371.0,170.5 371.3,170.8 371.7,171.1 372.0,171.3 372.4,171.6 372.7,171.8 373.1,172.0 373.5,172.3 373.8,172.5 374.2,172.7 374.5,172.9 374.9,173.1 375.3,173.2 375.6,173.4 376.0,173.6 376.3,173.8 376.7,173.9 377.1,174.1 377.4,174.2 377.8,174.4 378.1,174.5 378.5,174.6 378.9,174.8 379.2,174.9 379.6,175.0 379.9,175.1 380.3,175.2 380.7,175.3 381.0,175.4 381.4,175.5 381.7,175.6 382.1,175.7 382.5,175.8 382.8,175.9 383.2,176.0 383.5,176.0 383.9,176.1 384.3,176.2 384.6,176.3 385.0,176.3 385.3,176.4 385.7,176.4 386.1,176.5 386.4,176.6 386.8,176.6 387.1,176.7 387.5,176.7 387.9,176.8 388.2,176.8 388.6,176.9 388.9,176.9 389.3,176.9 389.7,177.0 390.0,177.0 390.4,177.0 390.7,177.1 391.1,177.1 391.4,177.1 391.8,177.1 392.2,177.2 392.5,177.2 392.9,177.2 393.2,177.2 393.6,177.2 394.0,177.3 394.3,177.3 394.7,177.3 395.0,177.3 395.4,177.3 395.8,177.3 396.1,177.3 396.5,177.3 396.8,177.3 397.2,177.3 397.6,177.3 397.9,177.3 398.3,177.3 398.6,177.3 399.0,177.3 399.4,177.3 399.7,177.3 400.1,177.2 400.4,177.2 400.8,177.2 401.2,177.2 401.5,177.2 401.9,177.1 402.2,177.1 402.6,177.1 403.0,177.1 403.3,177.0 403.7,177.0 404.0,177.0 404.4,176.9 404.8,176.9 405.1,176.9 405.5,176.8 405.8,176.8 406.2,176.7 406.6,176.7 406.9,176.6 407.3,176.6 407.6,176.5 408.0,176.5 408.4,176.4 408.7,176.3 409.1,176.3 409.4,176.2 409.8,176.1 410.2,176.1 410.5,176.0 410.9,175.9 411.2,175.8 411.6,175.8 411.9,175.7 412.3,175.6 412.7,175.5 413.0,175.4 413.4,175.3 413.7,175.2 414.1,175.1 414.5,175.0 414.8,174.9 415.2,174.8 415.5,174.6 415.9,174.5 416.3,174.4 416.6,174.2 417.0,174.1 417.3,174.0 417.7,173.8 418.1,173.7 418.4,173.5 418.8,173.3 419.1,173.2 419.5,173.0 419.9,172.8 420.2,172.6 420.6,172.4 420.9,172.2 421.3,172.0 421.7,171.8 422.0,171.6 422.4,171.3 422.7,171.1 423.1,170.8 423.5,170.6 423.8,170.3 424.2,170.0 424.5,169.7 424.9,169.4 425.3,169.1 425.6,168.8 426.0,168.4 426.3,168.1 426.7,167.7 427.1,167.3 427.4,166.9 427.8,166.5 428.1,166.1 428.5,165.6 428.9,165.2 429.2,164.7 429.6,164.2 429.9,163.6 430.3,163.1 430.6,162.5 431.0,161.9 431.4,161.2 431.7,160.6 432.1,159.8 432.4,159.1 432.8,158.3 433.2,157.5 433.5,156.7 433.9,155.7 434.2,154.8 434.6,153.8 435.0,152.7 435.3,151.6 435.7,150.4 436.0,149.2 436.4,147.8 436.8,146.4 437.1,144.9 437.5,143.3 437.8,141.7 438.2,139.9 438.6,137.9 438.9,135.9 439.3,133.7 439.6,131.3 440.0,128.8 440.4,126.1 440.7,123.2 441.1,120.1 441.4,116.8 441.8,113.2 442.2,109.4 442.5,105.3 442.9,100.8 443.2,96.1 443.6,91.0 444.0,85.6 444.3,79.9 444.7,73.9 445.0,67.6 445.4,61.1 445.8,54.4 446.1,47.7 446.5,41.0 446.8,34.6 447.2,28.5 447.6,23.1 447.9,18.4 448.3,14.8 448.6,12.3 449.0,11.2 449.4,11.3 449.7,12.8 450.1,15.6 450.4,19.5 450.8,24.4 451.1,30.0 451.5,36.2 451.9,42.7 452.2,49.4 452.6,56.2 452.9,62.8 453.3,69.3 453.7,75.6 454.0,81.5 454.4,87.2 454.7,92.5 455.1,97.5 455.5,102.1 455.8,106.5 456.2,110.6 456.5,114.4 456.9,117.9 457.3,121.2 457.6,124.2 458.0,127.1 458.3,129.7 458.7,132.2 459.1,134.5 459.4,136.7 459.8,138.7 460.1,140.6 460.5,142.4 460.9,144.1 461.2,145.7 461.6,147.2 461.9,148.6 462.3,149.9 462.7,151.1 463.0,152.3 463.4,153.4 463.7,154.5 464.1,155.5 464.5,156.4 464.8,157.3 465.2,158.2 465.5,159.0 465.9,159.8 466.3,160.5 466.6,161.3 467.0,161.9 467.3,162.6 467.7,163.2 468.1,163.8 468.4,164.4 468.8,164.9 469.1,165.4 469.5,165.9 469.8,166.4 470.2,166.9 470.6,167.3 470.9,167.7 471.3,168.1 471.6,168.5 472.0,168.9 472.4,169.3 472.7,169.6 473.1,170.0 473.4,170.3 473.8,170.6 474.2,170.9 474.5,171.2 474.9,171.5 475.2,171.8 475.6,172.0 476.0,172.3 476.3,172.5 476.7,172.8 477.0,173.0 477.4,173.2 477.8,173.4 478.1,173.7 478.5,173.9 478.8,174.1 479.2,174.2 479.6,174.4 479.9,174.6 480.3,174.8 480.6,175.0 481.0,175.1 481.4,175.3 481.7,175.4 482.1,175.6 482.4,175.7 482.8,175.9 483.2,176.0 483.5,176.2 483.9,176.3 484.2,176.4 484.6,176.5 485.0,176.7 485.3,176.8 485.7,176.9 486.0,177.0 486.4,177.1 486.8,177.2 487.1,177.3 487.5,177.4 487.8,177.5 488.2,177.6 488.5,177.7 488.9,177.8 489.3,177.9 489.6,178.0 490.0,178.1 490.3,178.2 490.7,178.2 491.1,178.3 491.4,178.4 491.8,178.5 492.1,178.6 492.5,178.6 492.9,178.7 493.2,178.8 493.6,178.8 493.9,178.9 494.3,179.0 494.7,179.0 495.0,179.1 495.4,179.2 495.7,179.2 496.1,179.3 496.5,179.3 496.8,179.4 497.2,179.4 497.5,179.5 497.9,179.6 498.3,179.6 498.6,179.7 499.0,179.7 499.3,179.8 499.7,179.8 500.1,179.9 500.4,179.9 500.8,179.9 501.1,180.0 501.5,180.0 501.9,180.1 502.2,180.1 502.6,180.2 502.9,180.2 503.3,180.2 503.7,180.3 504.0,180.3 504.4,180.4 504.7,180.4 505.1,180.4 505.5,180.5 505.8,180.5 506.2,180.5 506.5,180.6 506.9,180.6 507.3,180.6 507.6,180.7 508.0,180.7 508.3,180.7 508.7,180.8 509.0,180.8 509.4,180.8 509.8,180.8 510.1,180.9 510.5,180.9 510.8,180.9 511.2,181.0 511.6,181.0 511.9,181.0 512.3,181.0 512.6,181.1 513.0,181.1 513.4,181.1 513.7,181.1 514.1,181.2 514.4,181.2 514.8,181.2 515.2,181.2 515.5,181.3 515.9,181.3 516.2,181.3 516.6,181.3 517.0,181.3 517.3,181.4 517.7,181.4 518.0,181.4 518.4,181.4 518.8,181.4 519.1,181.5 519.5,181.5 519.8,181.5 520.2,181.5 520.6,181.5 520.9,181.6 521.3,181.6 521.6,181.6 522.0,181.6 522.4,181.6 522.7,181.6 523.1,181.7 523.4,181.7 523.8,181.7 524.2,181.7 524.5,181.7 524.9,181.7 525.2,181.8 525.6,181.8 526.0,181.8 526.3,181.8 526.7,181.8 527.0,181.8 527.4,181.8 527.7,181.9 528.1,181.9 528.5,181.9 528.8,181.9 529.2,181.9 529.5,181.9 529.9,181.9 530.3,181.9 530.6,182.0 531.0,182.0 531.3,182.0 531.7,182.0 532.1,182.0 532.4,182.0 532.8,182.0 533.1,182.0 533.5,182.1 533.9,182.1 534.2,182.1 534.6,182.1 534.9,182.1 535.3,182.1 535.7,182.1 536.0,182.1 536.4,182.1 536.7,182.2 537.1,182.2"/>
<polyline stroke="#55539f" points="303.7,176.1 304.1,175.9 304.4,175.8 304.8,175.6 305.1,175.4 305.5,175.3 305.9,175.1 306.2,174.9 306.6,174.7 306.9,174.5 307.3,174.3 307.7,174.1 308.0,173.9 308.4,173.7 308.7,173.4 309.1,173.2 309.5,172.9 309.8,172.7 310.2,172.4 310.5,172.1 310.9,171.8 311.3,171.5 311.6,171.2 312.0,170.9 312.3,170.6 312.7,170.2 313.1,169.9 313.4,169.5 313.8,169.1 314.1,168.7 314.5,168.2 314.8,167.8 315.2,167.3 315.6,166.8 315.9,166.3 316.3,165.8 316.6,165.2 317.0,164.6 317.4,164.0 317.7,163.4 318.1,162.7 318.4,162.0 318.8,161.2 319.2,160.4 319.5,159.6 319.9,158.7 320.2,157.8 320.6,156.8 321.0,155.8 321.3,154.7 321.7,153.5 322.0,152.3 322.4,150.9 322.8,149.5 323.1,148.1 323.5,146.5 323.8,144.8 324.2,143.0 324.6,141.0 324.9,139.0 325.3,136.8 325.6,134.4 326.0,131.8 326.4,129.1 326.7,126.2 327.1,123.1 327.4,119.7 327.8,116.1 328.2,112.2 328.5,108.0 328.9,103.6 329.2,98.8 329.6,93.8 330.0,88.4 330.3,82.8 330.7,76.9 331.0,70.9 331.4,64.6 331.8,58.3 332.1,52.0 332.5,45.9 332.8,40.1 333.2,34.8 333.5,30.2 333.9,26.4 334.3,23.7 334.6,22.0 335.0,21.5 335.3,22.3 335.7,24.3 336.1,27.3 336.4,31.3 336.8,36.1 337.1,41.6 337.5,47.5 337.9,53.6 338.2,59.9 338.6,66.2 338.9,72.4 339.3,78.4 339.7,84.2 340.0,89.8 340.4,95.0 340.7,100.0 341.1,104.6 341.5,109.0 341.8,113.1 342.2,116.9 342.5,120.4 342.9,123.7 343.3,126.8 343.6,129.7 344.0,132.3 344.3,134.8 344.7,137.1 345.1,139.3 345.4,141.3 345.8,143.2 346.1,145.0 346.5,146.6 346.9,148.2 347.2,149.6 347.6,151.0 347.9,152.3 348.3,153.5 348.7,154.6 349.0,155.7 349.4,156.7 349.7,157.7 350.1,158.6 350.5,159.4 350.8,160.3 351.2,161.0 351.5,161.8 351.9,162.5 352.3,163.1 352.6,163.7 353.0,164.3 353.3,164.9 353.7,165.5 354.0,166.0 354.4,166.5 354.8,166.9 355.1,167.4 355.5,167.8 355.8,168.2 356.2,168.6 356.6,169.0 356.9,169.4 357.3,169.7 357.6,170.1 358.0,170.4 358.4,170.7 358.7,171.0 359.1,171.3 359.4,171.6 359.8,171.8 360.2,172.1 360.5,172.3 360.9,172.5 361.2,172.8 361.6,173.0 362.0,173.2 362.3,173.4 362.7,173.6 363.0,173.8 363.4,174.0 363.8,174.1 364.1,174.3 364.5,174.5 364.8,174.6 365.2,174.8 365.6,174.9 365.9,175.1 366.3,175.2 366.6,175.3 367.0,175.5 367.4,175.6 367.7,175.7 368.1,175.8 368.4,175.9 368.8,176.0 369.2,176.2 369.5,176.3 369.9,176.4 370.2,176.4 370.6,176.5 371.0,176.6 371.3,176.7 371.7,176.8 372.0,176.9 372.4,177.0 372.7,177.0 373.1,177.1 373.5,177.2 373.8,177.2 374.2,177.3 374.5,177.4 374.9,177.4 375.3,177.5 375.6,177.5 376.0,177.6 376.3,177.7 376.7,177.7 377.1,177.8 377.4,177.8 377.8,177.8 378.1,177.9 378.5,177.9 378.9,178.0 379.2,178.0 379.6,178.0 379.9,178.1 380.3,178.1 380.7,178.1 381.0,178.2 381.4,178.2 381.7,178.2 382.1,178.3 382.5,178.3 382.8,178.3 383.2,178.3 383.5,178.4 383.9,178.4 384.3,178.4 384.6,178.4 385.0,178.4 385.3,178.5 385.7,178.5 386.1,178.5 386.4,178.5 386.8,178.5 387.1,178.5 387.5,178.5 387.9,178.5 388.2,178.5 388.6,178.5 388.9,178.5 389.3,178.6 389.7,178.6 390.0,178.6 390.4,178.6 390.7,178.6 391.1,178.6 391.4,178.5 391.8,178.5 392.2,178.5 392.5,178.5 392.9,178.5 393.2,178.5 393.6,178.5 394.0,178.5 394.3,178.5 394.7,178.5 395.0,178.5 395.4,178.4 395.8,178.4 396.1,178.4 396.5,178.4 396.8,178.4 397.2,178.3 397.6,178.3 397.9,178.3 398.3,178.3 398.6,178.2 399.0,178.2 399.4,178.2 399.7,178.2 400.1,178.1 400.4,178.1 400.8,178.1 401.2,178.0 401.5,178.0 401.9,177.9 402.2,177.9 402.6,177.9 403.0,177.8 403.3,177.8 403.7,177.7 404.0,177.7 404.4,177.6 404.8,177.6 405.1,177.5 405.5,177.5 405.8,177.4 406.2,177.4 406.6,177.3 406.9,177.2 407.3,177.2 407.6,177.1 408.0,177.0 408.4,177.0 408.7,176.9 409.1,176.8 409.4,176.7 409.8,176.7 410.2,176.6 410.5,176.5 410.9,176.4 411.2,176.3 411.6,176.2 411.9,176.1 412.3,176.0 412.7,175.9 413.0,175.8 413.4,175.7 413.7,175.6 414.1,175.5 414.5,175.4 414.8,175.2 415.2,175.1 415.5,175.0 415.9,174.8 416.3,174.7 416.6,174.5 417.0,174.4 417.3,174.2 417.7,174.1 418.1,173.9 418.4,173.7 418.8,173.6 419.1,173.4 419.5,173.2 419.9,173.0 420.2,172.8 420.6,172.6 420.9,172.4 421.3,172.2 421.7,171.9 422.0,171.7 422.4,171.4 422.7,171.2 423.1,170.9 423.5,170.6 423.8,170.4 424.2,170.1 424.5,169.8 424.9,169.4 425.3,169.1 425.6,168.8 426.0,168.4 426.3,168.0 426.7,167.6 427.1,167.2 427.4,166.8 427.8,166.4 428.1,165.9 428.5,165.4 428.9,165.0 429.2,164.4 429.6,163.9 429.9,163.3 430.3,162.7 430.6,162.1 431.0,161.5 431.4,160.8 431.7,160.1 432.1,159.4 432.4,158.6 432.8,157.7 433.2,156.9 433.5,156.0 433.9,155.0 434.2,154.0 434.6,152.9 435.0,151.8 435.3,150.6 435.7,149.4 436.0,148.0 436.4,146.6 436.8,145.1 437.1,143.5 437.5,141.8 437.8,140.0 438.2,138.1 438.6,136.1 438.9,133.9 439.3,131.5 439.6,129.0 440.0,126.3 440.4,123.4 440.7,120.3 441.1,117.0 441.4,113.4 441.8,109.5 442.2,105.4 442.5,101.0 442.9,96.2 443.2,91.1 443.6,85.8 444.0,80.0 444.3,74.0 444.7,67.7 445.0,61.2 445.4,54.5 445.8,47.7 446.1,41.1 446.5,34.6 446.8,28.6 447.2,23.1 447.6,18.5 447.9,14.8 448.3,12.3 448.6,11.2 449.0,11.3 449.4,12.8 449.7,15.6 450.1,19.5 450.4,24.4 450.8,30.0 451.1,36.2 451.5,42.7 451.9,49.4 452.2,56.2 452.6,62.9 452.9,69.3 453.3,75.6 453.7,81.6 454.0,87.2 454.4,92.5 454.7,97.5 455.1,102.2 455.5,106.6 455.8,110.6 456.2,114.4 456.5,117.9 456.9,121.2 457.3,124.3 457.6,127.2 458.0,129.8 458.3,132.3 458.7,134.6 459.1,136.8 459.4,138.8 459.8,140.7 460.1,142.5 460.5,144.2 460.9,145.8 461.2,147.2 461.6,148.6 461.9,150.0 462.3,151.2 462.7,152.4 463.0,153.5 463.4,154.6 463.7,155.6 464.1,156.5 464.5,157.4 464.8,158.3 465.2,159.1 465.5,159.9 465.9,160.6 466.3,161.3 466.6,162.0 467.0,162.7 467.3,163.3 467.7,163.9 468.1,164.4 468.4,165.0 468.8,165.5 469.1,166.0 469.5,166.5 469.8,166.9 470.2,167.4 470.6,167.8 470.9,168.2 471.3,168.6 471.6,169.0 472.0,169.4 472.4,169.7 472.7,170.0 473.1,170.4 473.4,170.7 473.8,171.0 474.2,171.3 474.5,171.6 474.9,171.8 475.2,172.1 475.6,172.4 476.0,172.6 476.3,172.8 476.7,173.1 477.0,173.3 477.4,173.5 477.8,173.7 478.1,173.9 478.5,174.1 478.8,174.3 479.2,174.5 479.6,174.7 479.9,174.9 480.3,175.0 480.6,175.2 481.0,175.4 481.4,175.5 481.7,175.7 482.1,175.8 482.4,176.0 482.8,176.1 483.2,176.2 483.5,176.4 483.9,176.5 484.2,176.6 484.6,176.7 485.0,176.9 485.3,177.0 485.7,177.1 486.0,177.2 486.4,177.3 486.8,177.4 487.1,177.5 487.5,177.6 487.8,177.7 488.2,177.8 488.5,177.9 488.9,178.0 489.3,178.1 489.6,178.1 490.0,178.2 490.3,178.3 490.7,178.4 491.1,178.5 491.4,178.5 491.8,178.6 492.1,178.7 492.5,178.8 492.9,178.8 493.2,178.9 493.6,179.0 493.9,179.0 494.3,179.1 494.7,179.2 495.0,179.2 495.4,179.3 495.7,179.3 496.1,179.4 496.5,179.4 496.8,179.5 497.2,179.6 497.5,179.6 497.9,179.7 498.3,179.7 498.6,179.8 499.0,179.8 499.3,179.9 499.7,179.9 500.1,180.0 500.4,180.0 500.8,180.0 501.1,180.1 501.5,180.1 501.9,180.2 502.2,180.2 502.6,180.2 502.9,180.3 503.3,180.3 503.7,180.4 504.0,180.4 504.4,180.4 504.7,180.5 505.1,180.5 505.5,180.5 505.8,180.6 506.2,180.6 506.5,180.6 506.9,180.7 507.3,180.7 507.6,180.7 508.0,180.8 508.3,180.8 508.7,180.8 509.0,180.9 509.4,180.9 509.8,180.9 510.1,180.9 510.5,181.0 510.8,181.0 511.2,181.0 511.6,181.1 511.9,181.1 512.3,181.1 512.6,181.1 513.0,181.2 513.4,181.2 513.7,181.2 514.1,181.2 514.4,181.2 514.8,181.3 515.2,181.3 515.5,181.3 515.9,181.3 516.2,181.4 516.6,181.4 517.0,181.4 517.3,181.4 517.7,181.4 518.0,181.5 518.4,181.5 518.8,181.5 519.1,181.5 519.5,181.5 519.8,181.6 520.2,181.6 520.6,181.6 520.9,181.6 521.3,181.6 521.6,181.6 522.0,181.7 522.4,181.7 522.7,181.7 523.1,181.7 523.4,181.7 523.8,181.7 524.2,181.8 524.5,181.8 524.9,181.8 525.2,181.8 525.6,181.8 526.0,181.8 526.3,181.8 526.7,181.9 527.0,181.9 527.4,181.9 527.7,181.9 528.1,181.9 528.5,181.9 528.8,181.9 529.2,182.0 529.5,182.0 529.9,182.0 530.3,182.0 530.6,182.0 531.0,182.0 531.3,182.0 531.7,182.0 532.1,182.1 532.4,182.1 532.8,182.1 533.1,182.1 533.5,182.1 533.9,182.1 534.2,182.1 534.6,182.1 534.9,182.1 535.3,182.2 535.7,182.2 536.0,182.2 536.4,182.2 536.7,182.2 537.1,182.2"/>
<polyline stroke="#151515" points="303.7,169.8 304.1,169.4 304.4,169.0 304.8,168.6 305.1,168.2 305.5,167.7 305.9,167.2 306.2,166.7 306.6,166.2 306.9,165.6 307.3,165.0 307.7,164.4 308.0,163.8 308.4,163.1 308.7,162.4 309.1,161.6 309.5,160.8 309.8,160.0 310.2,159.1 310.5,158.2 310.9,157.2 311.3,156.1 311.6,155.0 312.0,153.9 312.3,152.6 312.7,151.3 313.1,149.9 313.4,148.4 313.8,146.8 314.1,145.0 314.5,143.2 314.8,141.2 315.2,139.1 315.6,136.9 315.9,134.5 316.3,131.9 316.6,129.1 317.0,126.1 317.4,122.9 317.7,119.5 318.1,115.8 318.4,111.9 318.8,107.7 319.2,103.2 319.5,98.4 319.9,93.3 320.2,88.0 320.6,82.4 321.0,76.6 321.3,70.6 321.7,64.6 322.0,58.7 322.4,52.8 322.8,47.3 323.1,42.2 323.5,37.8 323.8,34.2 324.2,31.5 324.6,29.9 324.9,29.4 325.3,30.1 325.6,31.9 326.0,34.7 326.4,38.5 326.7,43.1 327.1,48.2 327.4,53.8 327.8,59.7 328.2,65.7 328.5,71.7 328.9,77.6 329.2,83.3 329.6,88.9 330.0,94.1 330.3,99.2 330.7,103.9 331.0,108.3 331.4,112.5 331.8,116.4 332.1,120.0 332.5,123.4 332.8,126.5 333.2,129.5 333.5,132.2 333.9,134.8 334.3,137.1 334.6,139.3 335.0,141.4 335.3,143.3 335.7,145.1 336.1,146.8 336.4,148.4 336.8,149.9 337.1,151.3 337.5,152.6 337.9,153.8 338.2,155.0 338.6,156.1 338.9,157.1 339.3,158.1 339.7,159.0 340.0,159.8 340.4,160.7 340.7,161.4 341.1,162.2 341.5,162.9 341.8,163.6 342.2,164.2 342.5,164.8 342.9,165.4 343.3,165.9 343.6,166.4 344.0,166.9 344.3,167.4 344.7,167.8 345.1,168.3 345.4,168.7 345.8,169.1 346.1,169.5 346.5,169.8 346.9,170.2 347.2,170.5 347.6,170.8 347.9,171.1 348.3,171.4 348.7,171.7 349.0,172.0 349.4,172.3 349.7,172.5 350.1,172.8 350.5,173.0 350.8,173.2 351.2,173.4 351.5,173.6 351.9,173.9 352.3,174.0 352.6,174.2 353.0,174.4 353.3,174.6 353.7,174.8 354.0,174.9 354.4,175.1 354.8,175.2 355.1,175.4 355.5,175.5 355.8,175.7 356.2,175.8 356.6,175.9 356.9,176.0 357.3,176.2 357.6,176.3 358.0,176.4 358.4,176.5 358.7,176.6 359.1,176.7 359.4,176.8 359.8,176.9 360.2,177.0 360.5,177.1 360.9,177.2 361.2,177.3 361.6,177.3 362.0,177.4 362.3,177.5 362.7,177.6 363.0,177.7 363.4,177.7 363.8,177.8 364.1,177.9 364.5,177.9 364.8,178.0 365.2,178.0 365.6,178.1 365.9,178.2 366.3,178.2 366.6,178.3 367.0,178.3 367.4,178.4 367.7,178.4 368.1,178.5 368.4,178.5 368.8,178.5 369.2,178.6 369.5,178.6 369.9,178.7 370.2,178.7 370.6,178.7 371.0,178.8 371.3,178.8 371.7,178.8 372.0,178.9 372.4,178.9 372.7,178.9 373.1,179.0 373.5,179.0 373.8,179.0 374.2,179.0 374.5,179.1 374.9,179.1 375.3,179.1 375.6,179.1 376.0,179.1 376.3,179.2 376.7,179.2 377.1,179.2 377.4,179.2 377.8,179.2 378.1,179.2 378.5,179.3 378.9,179.3 379.2,179.3 379.6,179.3 379.9,179.3 380.3,179.3 380.7,179.3 381.0,179.3 381.4,179.3 381.7,179.3 382.1,179.3 382.5,179.4 382.8,179.4 383.2,179.4 383.5,179.4 383.9,179.4 384.3,179.4 384.6,179.4 385.0,179.4 385.3,179.4 385.7,179.4 386.1,179.3 386.4,179.3 386.8,179.3 387.1,179.3 387.5,179.3 387.9,179.3 388.2,179.3 388.6,179.3 388.9,179.3 389.3,179.3 389.7,179.3 390.0,179.3 390.4,179.2 390.7,179.2 391.1,179.2 391.4,179.2 391.8,179.2 392.2,179.2 392.5,179.1 392.9,179.1 393.2,179.1 393.6,179.1 394.0,179.1 394.3,179.0 394.7,179.0 395.0,179.0 395.4,179.0 395.8,178.9 396.1,178.9 396.5,178.9 396.8,178.8 397.2,178.8 397.6,178.8 397.9,178.7 398.3,178.7 398.6,178.7 399.0,178.6 399.4,178.6 399.7,178.6 400.1,178.5 400.4,178.5 400.8,178.4 401.2,178.4 401.5,178.3 401.9,178.3 402.2,178.2 402.6,178.2 403.0,178.1 403.3,178.1 403.7,178.0 404.0,178.0 404.4,177.9 404.8,177.9 405.1,177.8 405.5,177.7 405.8,177.7 406.2,177.6 406.6,177.5 406.9,177.5 407.3,177.4 407.6,177.3 408.0,177.2 408.4,177.1 408.7,177.1 409.1,177.0 409.4,176.9 409.8,176.8 410.2,176.7 410.5,176.6 410.9,176.5 411.2,176.4 411.6,176.3 411.9,176.2 412.3,176.1 412.7,176.0 413.0,175.9 413.4,175.8 413.7,175.6 414.1,175.5 414.5,175.4 414.8,175.2 415.2,175.1 415.5,175.0 415.9,174.8 416.3,174.6 416.6,174.5 417.0,174.3 417.3,174.2 417.7,174.0 418.1,173.8 418.4,173.6 418.8,173.4 419.1,173.2 419.5,173.0 419.9,172.8 420.2,172.6 420.6,172.4 420.9,172.1 421.3,171.9 421.7,171.7 422.0,171.4 422.4,171.1 422.7,170.8 423.1,170.6 423.5,170.3 423.8,169.9 424.2,169.6 424.5,169.3 424.9,168.9 425.3,168.6 425.6,168.2 426.0,167.8 426.3,167.4 426.7,167.0 427.1,166.6 427.4,166.1 427.8,165.6 428.1,165.1 428.5,164.6 428.9,164.1 429.2,163.5 429.6,162.9 429.9,162.3 430.3,161.6 430.6,161.0 431.0,160.2 431.4,159.5 431.7,158.7 432.1,157.9 432.4,157.0 432.8,156.1 433.2,155.2 433.5,154.2 433.9,153.1 434.2,152.0 434.6,150.8 435.0,149.5 435.3,148.2 435.7,146.8 436.0,145.3 436.4,143.7 436.8,142.0 437.1,140.2 437.5,138.2 437.8,136.2 438.2,134.0 438.6,131.6 438.9,129.1 439.3,126.4 439.6,123.5 440.0,120.4 440.4,117.1 440.7,113.5 441.1,109.6 441.4,105.5 441.8,101.0 442.2,96.3 442.5,91.2 442.9,85.8 443.2,80.1 443.6,74.1 444.0,67.8 444.3,61.2 444.7,54.5 445.0,47.8 445.4,41.1 445.8,34.6 446.1,28.6 446.5,23.1 446.8,18.5 447.2,14.8 447.6,12.4 447.9,11.2 448.3,11.3 448.6,12.8 449.0,15.6 449.4,19.5 449.7,24.4 450.1,30.0 450.4,36.2 450.8,42.7 451.1,49.4 451.5,56.2 451.9,62.9 452.2,69.4 452.6,75.6 452.9,81.6 453.3,87.2 453.7,92.5 454.0,97.5 454.4,102.2 454.7,106.6 455.1,110.7 455.5,114.5 455.8,118.0 456.2,121.3 456.5,124.3 456.9,127.2 457.3,129.9 457.6,132.3 458.0,134.7 458.3,136.8 458.7,138.9 459.1,140.8 459.4,142.6 459.8,144.2 460.1,145.8 460.5,147.3 460.9,148.7 461.2,150.0 461.6,151.3 461.9,152.5 462.3,153.6 462.7,154.6 463.0,155.6 463.4,156.6 463.7,157.5 464.1,158.4 464.5,159.2 464.8,160.0 465.2,160.7 465.5,161.4 465.9,162.1 466.3,162.7 466.6,163.3 467.0,163.9 467.3,164.5 467.7,165.0 468.1,165.6 468.4,166.1 468.8,166.5 469.1,167.0 469.5,167.4 469.8,167.9 470.2,168.3 470.6,168.7 470.9,169.1 471.3,169.4 471.6,169.8 472.0,170.1 472.4,170.4 472.7,170.7 473.1,171.0 473.4,171.3 473.8,171.6 474.2,171.9 474.5,172.2 474.9,172.4 475.2,172.7 475.6,172.9 476.0,173.1 476.3,173.4 476.7,173.6 477.0,173.8 477.4,174.0 477.8,174.2 478.1,174.4 478.5,174.6 478.8,174.7 479.2,174.9 479.6,175.1 479.9,175.2 480.3,175.4 480.6,175.6 481.0,175.7 481.4,175.9 481.7,176.0 482.1,176.1 482.4,176.3 482.8,176.4 483.2,176.5 483.5,176.7 483.9,176.8 484.2,176.9 484.6,177.0 485.0,177.1 485.3,177.2 485.7,177.3 486.0,177.4 486.4,177.5 486.8,177.6 487.1,177.7 487.5,177.8 487.8,177.9 488.2,178.0 488.5,178.1 488.9,178.2 489.3,178.3 489.6,178.4 490.0,178.4 490.3,178.5 490.7,178.6 491.1,178.7 491.4,178.7 491.8,178.8 492.1,178.9 492.5,178.9 492.9,179.0 493.2,179.1 493.6,179.1 493.9,179.2 494.3,179.3 494.7,179.3 495.0,179.4 495.4,179.4 495.7,179.5 496.1,179.5 496.5,179.6 496.8,179.7 497.2,179.7 497.5,179.8 497.9,179.8 498.3,179.9 498.6,179.9 499.0,179.9 499.3,180.0 499.7,180.0 500.1,180.1 500.4,180.1 500.8,180.2 501.1,180.2 501.5,180.2 501.9,180.3 502.2,180.3 502.6,180.4 502.9,180.4 503.3,180.4 503.7,180.5 504.0,180.5 504.4,180.5 504.7,180.6 505.1,180.6 505.5,180.6 505.8,180.7 506.2,180.7 506.5,180.7 506.9,180.8 507.3,180.8 507.6,180.8 508.0,180.9 508.3,180.9 508.7,180.9 509.0,181.0 509.4,181.0 509.8,181.0 510.1,181.0 510.5,181.1 510.8,181.1 511.2,181.1 511.6,181.1 511.9,181.2 512.3,181.2 512.6,181.2 513.0,181.2 513.4,181.3 513.7,181.3 514.1,181.3 514.4,181.3 514.8,181.3 515.2,181.4 515.5,181.4 515.9,181.4 516.2,181.4 516.6,181.5 517.0,181.5 517.3,181.5 517.7,181.5 518.0,181.5 518.4,181.5 518.8,181.6 519.1,181.6 519.5,181.6 519.8,181.6 520.2,181.6 520.6,181.7 520.9,181.7 521.3,181.7 521.6,181.7 522.0,181.7 522.4,181.7 522.7,181.8 523.1,181.8 523.4,181.8 523.8,181.8 524.2,181.8 524.5,181.8 524.9,181.8 525.2,181.9 525.6,181.9 526.0,181.9 526.3,181.9 526.7,181.9 527.0,181.9 527.4,181.9 527.7,182.0 528.1,182.0 528.5,182.0 528.8,182.0 529.2,182.0 529.5,182.0 529.9,182.0 530.3,182.0 530.6,182.1 531.0,182.1 531.3,182.1 531.7,182.1 532.1,182.1 532.4,182.1 532.8,182.1 533.1,182.1 533.5,182.1 533.9,182.2 534.2,182.2 534.6,182.2 534.9,182.2 535.3,182.2 535.7,182.2 536.0,182.2 536.4,182.2 536.7,182.2 537.1,182.2"/>
</g>
<rect x="303.7" y="10.2" width="233.4" height="174.4" fill="none" stroke="#000" stroke-width="1.5"/>
<path d="M299.5,184.60H303.7 M301.2,167.16H303.7 M299.5,149.72H303.7 M301.2,132.28H303.7 M299.5,114.84H303.7 M301.2,97.40H303.7 M299.5,79.96H303.7 M301.2,62.52H303.7 M299.5,45.08H303.7 M301.2,27.64H303.7 M299.5,10.20H303.7 M321.65,184.6V188.4 M357.56,184.6V188.4 M393.47,184.6V188.4 M429.38,184.6V188.4 M465.28,184.6V188.4 M501.19,184.6V188.4 M537.10,184.6V188.4 M303.70,184.6V186.79999999999998 M339.61,184.6V186.79999999999998 M375.52,184.6V186.79999999999998 M411.42,184.6V186.79999999999998 M447.33,184.6V186.79999999999998 M483.24,184.6V186.79999999999998 M519.15,184.6V186.79999999999998" stroke="#000" stroke-width="1.2" fill="none"/>
<g font-family="'Liberation Serif', serif" font-weight="bold" font-size="8.5" fill="#000" stroke="#000" stroke-width="0.2">
<text x="295.7" y="187.5" text-anchor="end">0.0</text>
<text x="295.7" y="152.6" text-anchor="end">0.2</text>
<text x="295.7" y="117.7" text-anchor="end">0.4</text>
<text x="295.7" y="82.9" text-anchor="end">0.6</text>
<text x="295.7" y="48.0" text-anchor="end">0.8</text>
<text x="295.7" y="13.1" text-anchor="end">1.0</text>
<text x="321.7" y="197.6" text-anchor="middle">11</text>
<text x="357.6" y="197.6" text-anchor="middle">12</text>
<text x="393.5" y="197.6" text-anchor="middle">13</text>
<text x="429.4" y="197.6" text-anchor="middle">14</text>
<text x="465.3" y="197.6" text-anchor="middle">15</text>
<text x="501.2" y="197.6" text-anchor="middle">16</text>
<text x="537.1" y="197.6" text-anchor="middle">17</text>
</g>
<text x="419.9" y="211" text-anchor="middle" font-family="'Liberation Serif', serif" font-weight="bold" font-size="10.7" fill="#000" stroke="#000" stroke-width="0.2">Wavelength (µm)</text>
<text transform="translate(274.5,93.5) rotate(-90)" text-anchor="middle" font-family="'Liberation Serif', serif" font-weight="bold" font-size="9.7" fill="#000" stroke="#000" stroke-width="0.2">Absorption</text>
<g font-family="'Liberation Serif', serif" font-weight="bold" font-size="7.35" fill="#000" stroke="#000" stroke-width="0.2">
<line x1="493.3" y1="29.2" x2="510.3" y2="29.2" stroke="#ee1c25" stroke-width="1.6"/>
<text x="511.2" y="31.6">0.43 eV</text>
<line x1="493.3" y1="38.0" x2="510.3" y2="38.0" stroke="#17529c" stroke-width="1.6"/>
<text x="511.2" y="40.4">0.46 eV</text>
<line x1="493.3" y1="46.8" x2="510.3" y2="46.8" stroke="#fdb813" stroke-width="1.6"/>
<text x="511.2" y="49.2">0.49 eV</text>
<line x1="493.3" y1="55.6" x2="510.3" y2="55.6" stroke="#18b25a" stroke-width="1.6"/>
<text x="511.2" y="58.0">0.52 eV</text>
<line x1="493.3" y1="64.4" x2="510.3" y2="64.4" stroke="#55539f" stroke-width="1.6"/>
<text x="511.2" y="66.8">0.55 eV</text>
<line x1="493.3" y1="73.2" x2="510.3" y2="73.2" stroke="#151515" stroke-width="1.6"/>
<text x="511.2" y="75.6">0.58 eV</text>
</g>
</g>
<g>
<clipPath id="clip228"><rect x="304.0" y="227.0" width="233.3" height="175.6"/></clipPath>
<g clip-path="url(#clip228)" fill="none" stroke-width="1.75" stroke-linejoin="round">
<polyline stroke="#ee1c25" points="304.0,398.2 304.4,398.2 304.7,398.1 305.1,398.1 305.4,398.0 305.8,398.0 306.2,397.9 306.5,397.9 306.9,397.8 307.2,397.7 307.6,397.7 308.0,397.6 308.3,397.6 308.7,397.5 309.0,397.4 309.4,397.4 309.8,397.3 310.1,397.2 310.5,397.1 310.8,397.1 311.2,397.0 311.5,396.9 311.9,396.9 312.3,396.8 312.6,396.7 313.0,396.6 313.3,396.5 313.7,396.5 314.1,396.4 314.4,396.3 314.8,396.2 315.1,396.1 315.5,396.1 315.9,396.0 316.2,395.9 316.6,395.8 316.9,395.7 317.3,395.6 317.7,395.6 318.0,395.5 318.4,395.4 318.7,395.3 319.1,395.2 319.5,395.1 319.8,395.1 320.2,395.0 320.5,394.9 320.9,394.8 321.3,394.7 321.6,394.7 322.0,394.6 322.3,394.5 322.7,394.4 323.1,394.3 323.4,394.3 323.8,394.2 324.1,394.1 324.5,394.0 324.8,393.9 325.2,393.8 325.6,393.8 325.9,393.7 326.3,393.6 326.6,393.5 327.0,393.4 327.4,393.3 327.7,393.2 328.1,393.1 328.4,393.0 328.8,392.9 329.2,392.8 329.5,392.7 329.9,392.6 330.2,392.4 330.6,392.3 331.0,392.2 331.3,392.0 331.7,391.9 332.0,391.7 332.4,391.6 332.8,391.4 333.1,391.2 333.5,391.0 333.8,390.9 334.2,390.7 334.6,390.4 334.9,390.2 335.3,390.0 335.6,389.7 336.0,389.5 336.4,389.2 336.7,388.9 337.1,388.6 337.4,388.3 337.8,388.0 338.2,387.6 338.5,387.3 338.9,386.9 339.2,386.5 339.6,386.1 339.9,385.6 340.3,385.1 340.7,384.6 341.0,384.1 341.4,383.6 341.7,383.0 342.1,382.3 342.5,381.7 342.8,381.0 343.2,380.3 343.5,379.5 343.9,378.7 344.3,377.8 344.6,376.8 345.0,375.8 345.3,374.8 345.7,373.6 346.1,372.4 346.4,371.1 346.8,369.7 347.1,368.2 347.5,366.6 347.9,364.9 348.2,363.0 348.6,361.0 348.9,358.8 349.3,356.5 349.7,353.9 350.0,351.1 350.4,348.1 350.7,344.8 351.1,341.2 351.5,337.3 351.8,333.0 352.2,328.4 352.5,323.3 352.9,317.8 353.2,311.9 353.6,305.5 354.0,298.6 354.3,291.4 354.7,283.8 355.0,275.9 355.4,268.0 355.8,260.3 356.1,253.0 356.5,246.5 356.8,241.0 357.2,237.0 357.6,234.7 357.9,234.2 358.3,235.5 358.6,238.7 359.0,243.4 359.4,249.4 359.7,256.4 360.1,263.9 360.4,271.7 360.8,279.6 361.2,287.4 361.5,294.9 361.9,302.0 362.2,308.6 362.6,314.8 363.0,320.6 363.3,325.9 363.7,330.8 364.0,335.2 364.4,339.3 364.8,343.1 365.1,346.6 365.5,349.7 365.8,352.7 366.2,355.4 366.5,357.8 366.9,360.1 367.3,362.2 367.6,364.2 368.0,366.0 368.3,367.7 368.7,369.3 369.1,370.7 369.4,372.1 369.8,373.4 370.1,374.5 370.5,375.7 370.9,376.7 371.2,377.7 371.6,378.6 371.9,379.5 372.3,380.3 372.7,381.1 373.0,381.8 373.4,382.5 373.7,383.2 374.1,383.8 374.5,384.4 374.8,385.0 375.2,385.5 375.5,386.0 375.9,386.5 376.3,386.9 376.6,387.4 377.0,387.8 377.3,388.2 377.7,388.6 378.1,388.9 378.4,389.3 378.8,389.6 379.1,389.9 379.5,390.2 379.8,390.5 380.2,390.8 380.6,391.1 380.9,391.3 381.3,391.6 381.6,391.8 382.0,392.1 382.4,392.3 382.7,392.5 383.1,392.7 383.4,392.9 383.8,393.1 384.2,393.3 384.5,393.4 384.9,393.6 385.2,393.8 385.6,393.9 386.0,394.1 386.3,394.2 386.7,394.4 387.0,394.5 387.4,394.6 387.8,394.8 388.1,394.9 388.5,395.0 388.8,395.1 389.2,395.3 389.6,395.4 389.9,395.5 390.3,395.6 390.6,395.7 391.0,395.8 391.4,395.9 391.7,395.9 392.1,396.0 392.4,396.1 392.8,396.2 393.2,396.3 393.5,396.4 393.9,396.4 394.2,396.5 394.6,396.6 394.9,396.6 395.3,396.7 395.7,396.8 396.0,396.8 396.4,396.9 396.7,397.0 397.1,397.0 397.5,397.1 397.8,397.1 398.2,397.2 398.5,397.2 398.9,397.3 399.3,397.3 399.6,397.4 400.0,397.4 400.3,397.5 400.7,397.5 401.1,397.6 401.4,397.6 401.8,397.6 402.1,397.7 402.5,397.7 402.9,397.8 403.2,397.8 403.6,397.8 403.9,397.9 404.3,397.9 404.7,397.9 405.0,398.0 405.4,398.0 405.7,398.0 406.1,398.0 406.5,398.1 406.8,398.1 407.2,398.1 407.5,398.2 407.9,398.2 408.2,398.2 408.6,398.2 409.0,398.2 409.3,398.3 409.7,398.3 410.0,398.3 410.4,398.3 410.8,398.4 411.1,398.4 411.5,398.4 411.8,398.4 412.2,398.4 412.6,398.4 412.9,398.5 413.3,398.5 413.6,398.5 414.0,398.5 414.4,398.5 414.7,398.5 415.1,398.6 415.4,398.6 415.8,398.6 416.2,398.6 416.5,398.6 416.9,398.6 417.2,398.6 417.6,398.6 418.0,398.6 418.3,398.7 418.7,398.7 419.0,398.7 419.4,398.7 419.8,398.7 420.1,398.7 420.5,398.7 420.8,398.7 421.2,398.7 421.5,398.7 421.9,398.7 422.3,398.7 422.6,398.7 423.0,398.7 423.3,398.7 423.7,398.8 424.1,398.8 424.4,398.8 424.8,398.8 425.1,398.8 425.5,398.8 425.9,398.8 426.2,398.8 426.6,398.8 426.9,398.8 427.3,398.8 427.7,398.8 428.0,398.8 428.4,398.8 428.7,398.8 429.1,398.8 429.5,398.8 429.8,398.8 430.2,398.8 430.5,398.8 430.9,398.8 431.3,398.8 431.6,398.8 432.0,398.8 432.3,398.8 432.7,398.7 433.1,398.7 433.4,398.7 433.8,398.7 434.1,398.7 434.5,398.7 434.8,398.7 435.2,398.7 435.6,398.7 435.9,398.7 436.3,398.7 436.6,398.7 437.0,398.7 437.4,398.7 437.7,398.7 438.1,398.7 438.4,398.6 438.8,398.6 439.2,398.6 439.5,398.6 439.9,398.6 440.2,398.6 440.6,398.6 441.0,398.6 441.3,398.6 441.7,398.6 442.0,398.5 442.4,398.5 442.8,398.5 443.1,398.5 443.5,398.5 443.8,398.5 444.2,398.5 444.6,398.4 444.9,398.4 445.3,398.4 445.6,398.4 446.0,398.4 446.4,398.4 446.7,398.3 447.1,398.3 447.4,398.3 447.8,398.3 448.1,398.3 448.5,398.3 448.9,398.2 449.2,398.2 449.6,398.2 449.9,398.2 450.3,398.2 450.7,398.1 451.0,398.1 451.4,398.1 451.7,398.1 452.1,398.0 452.5,398.0 452.8,398.0 453.2,398.0 453.5,398.0 453.9,397.9 454.3,397.9 454.6,397.9 455.0,397.8 455.3,397.8 455.7,397.8 456.1,397.8 456.4,397.7 456.8,397.7 457.1,397.7 457.5,397.6 457.9,397.6 458.2,397.6 458.6,397.5 458.9,397.5 459.3,397.5 459.7,397.4 460.0,397.4 460.4,397.4 460.7,397.3 461.1,397.3 461.5,397.3 461.8,397.2 462.2,397.2 462.5,397.1 462.9,397.1 463.2,397.0 463.6,397.0 464.0,397.0 464.3,396.9 464.7,396.9 465.0,396.8 465.4,396.8 465.8,396.7 466.1,396.7 466.5,396.6 466.8,396.6 467.2,396.5 467.6,396.5 467.9,396.4 468.3,396.3 468.6,396.3 469.0,396.2 469.4,396.2 469.7,396.1 470.1,396.0 470.4,396.0 470.8,395.9 471.2,395.9 471.5,395.8 471.9,395.7 472.2,395.6 472.6,395.6 473.0,395.5 473.3,395.4 473.7,395.3 474.0,395.3 474.4,395.2 474.8,395.1 475.1,395.0 475.5,394.9 475.8,394.8 476.2,394.7 476.5,394.7 476.9,394.6 477.3,394.5 477.6,394.4 478.0,394.3 478.3,394.2 478.7,394.0 479.1,393.9 479.4,393.8 479.8,393.7 480.1,393.6 480.5,393.5 480.9,393.4 481.2,393.2 481.6,393.1 481.9,393.0 482.3,392.8 482.7,392.7 483.0,392.5 483.4,392.4 483.7,392.2 484.1,392.1 484.5,391.9 484.8,391.8 485.2,391.6 485.5,391.4 485.9,391.3 486.3,391.1 486.6,390.9 487.0,390.7 487.3,390.5 487.7,390.3 488.1,390.1 488.4,389.9 488.8,389.7 489.1,389.4 489.5,389.2 489.8,389.0 490.2,388.7 490.6,388.5 490.9,388.2 491.3,387.9 491.6,387.6 492.0,387.3 492.4,387.1 492.7,386.7 493.1,386.4 493.4,386.1 493.8,385.8 494.2,385.4 494.5,385.0 494.9,384.7 495.2,384.3 495.6,383.9 496.0,383.5 496.3,383.0 496.7,382.6 497.0,382.1 497.4,381.6 497.8,381.1 498.1,380.6 498.5,380.1 498.8,379.5 499.2,379.0 499.6,378.3 499.9,377.7 500.3,377.1 500.6,376.4 501.0,375.7 501.4,374.9 501.7,374.2 502.1,373.4 502.4,372.5 502.8,371.6 503.1,370.7 503.5,369.8 503.9,368.8 504.2,367.7 504.6,366.6 504.9,365.5 505.3,364.2 505.7,363.0 506.0,361.6 506.4,360.2 506.7,358.8 507.1,357.2 507.5,355.6 507.8,353.9 508.2,352.1 508.5,350.2 508.9,348.2 509.3,346.1 509.6,343.8 510.0,341.5 510.3,339.0 510.7,336.4 511.1,333.7 511.4,330.8 511.8,327.8 512.1,324.6 512.5,321.3 512.9,317.8 513.2,314.1 513.6,310.3 513.9,306.4 514.3,302.3 514.7,298.0 515.0,293.7 515.4,289.3 515.7,284.8 516.1,280.3 516.5,275.8 516.8,271.4 517.2,267.1 517.5,263.0 517.9,259.1 518.2,255.6 518.6,252.4 519.0,249.7 519.3,247.6 519.7,246.0 520.0,245.0 520.4,244.6 520.8,244.9 521.1,245.8 521.5,247.3 521.8,249.4 522.2,252.0 522.6,255.1 522.9,258.6 523.3,262.4 523.6,266.5 524.0,270.8 524.4,275.2 524.7,279.7 525.1,284.2 525.4,288.7 525.8,293.1 526.2,297.5 526.5,301.7 526.9,305.8 527.2,309.8 527.6,313.6 528.0,317.3 528.3,320.8 528.7,324.2 529.0,327.4 529.4,330.4 529.8,333.3 530.1,336.1 530.5,338.7 530.8,341.2 531.2,343.6 531.5,345.8 531.9,347.9 532.3,350.0 532.6,351.9 533.0,353.7 533.3,355.4 533.7,357.1 534.1,358.6 534.4,360.1 534.8,361.5 535.1,362.9 535.5,364.2 535.9,365.4 536.2,366.5 536.6,367.6 536.9,368.7 537.3,369.7"/>
<polyline stroke="#17529c" points="304.0,398.1 304.4,398.0 304.7,397.9 305.1,397.9 305.4,397.8 305.8,397.8 306.2,397.7 306.5,397.7 306.9,397.6 307.2,397.5 307.6,397.5 308.0,397.4 308.3,397.3 308.7,397.3 309.0,397.2 309.4,397.1 309.8,397.1 310.1,397.0 310.5,396.9 310.8,396.8 311.2,396.8 311.5,396.7 311.9,396.6 312.3,396.5 312.6,396.4 313.0,396.4 313.3,396.3 313.7,396.2 314.1,396.1 314.4,396.0 314.8,395.9 315.1,395.8 315.5,395.7 315.9,395.7 316.2,395.6 316.6,395.5 316.9,395.4 317.3,395.3 317.7,395.2 318.0,395.1 318.4,395.0 318.7,394.9 319.1,394.8 319.5,394.8 319.8,394.7 320.2,394.6 320.5,394.5 320.9,394.4 321.3,394.3 321.6,394.2 322.0,394.1 322.3,394.0 322.7,393.9 323.1,393.8 323.4,393.8 323.8,393.7 324.1,393.6 324.5,393.5 324.8,393.4 325.2,393.3 325.6,393.2 325.9,393.1 326.3,393.0 326.6,392.9 327.0,392.8 327.4,392.7 327.7,392.5 328.1,392.4 328.4,392.3 328.8,392.2 329.2,392.0 329.5,391.9 329.9,391.8 330.2,391.6 330.6,391.4 331.0,391.3 331.3,391.1 331.7,390.9 332.0,390.7 332.4,390.5 332.8,390.3 333.1,390.1 333.5,389.9 333.8,389.7 334.2,389.4 334.6,389.2 334.9,388.9 335.3,388.6 335.6,388.3 336.0,388.0 336.4,387.7 336.7,387.3 337.1,386.9 337.4,386.6 337.8,386.1 338.2,385.7 338.5,385.3 338.9,384.8 339.2,384.3 339.6,383.8 339.9,383.2 340.3,382.6 340.7,382.0 341.0,381.3 341.4,380.6 341.7,379.9 342.1,379.1 342.5,378.3 342.8,377.4 343.2,376.4 343.5,375.4 343.9,374.4 344.3,373.2 344.6,372.0 345.0,370.7 345.3,369.3 345.7,367.8 346.1,366.1 346.4,364.4 346.8,362.5 347.1,360.5 347.5,358.3 347.9,355.9 348.2,353.3 348.6,350.5 348.9,347.5 349.3,344.1 349.7,340.5 350.0,336.6 350.4,332.3 350.7,327.6 351.1,322.5 351.5,316.9 351.8,310.9 352.2,304.5 352.5,297.5 352.9,290.2 353.2,282.5 353.6,274.6 354.0,266.7 354.3,258.9 354.7,251.5 355.0,244.9 355.4,239.4 355.8,235.3 356.1,232.9 356.5,232.4 356.8,233.8 357.2,237.0 357.6,241.7 357.9,247.8 358.3,254.8 358.6,262.4 359.0,270.3 359.4,278.3 359.7,286.1 360.1,293.6 360.4,300.8 360.8,307.5 361.2,313.8 361.5,319.6 361.9,325.0 362.2,329.9 362.6,334.4 363.0,338.6 363.3,342.4 363.7,345.9 364.0,349.1 364.4,352.0 364.8,354.7 365.1,357.2 365.5,359.5 365.8,361.7 366.2,363.6 366.5,365.5 366.9,367.2 367.3,368.8 367.6,370.2 368.0,371.6 368.3,372.9 368.7,374.1 369.1,375.2 369.4,376.3 369.8,377.3 370.1,378.2 370.5,379.1 370.9,379.9 371.2,380.7 371.6,381.4 371.9,382.1 372.3,382.8 372.7,383.4 373.0,384.0 373.4,384.6 373.7,385.1 374.1,385.6 374.5,386.1 374.8,386.6 375.2,387.0 375.5,387.5 375.9,387.9 376.3,388.2 376.6,388.6 377.0,389.0 377.3,389.3 377.7,389.6 378.1,389.9 378.4,390.2 378.8,390.5 379.1,390.8 379.5,391.0 379.8,391.3 380.2,391.5 380.6,391.7 380.9,392.0 381.3,392.2 381.6,392.4 382.0,392.6 382.4,392.8 382.7,392.9 383.1,393.1 383.4,393.3 383.8,393.5 384.2,393.6 384.5,393.8 384.9,393.9 385.2,394.0 385.6,394.2 386.0,394.3 386.3,394.4 386.7,394.6 387.0,394.7 387.4,394.8 387.8,394.9 388.1,395.0 388.5,395.1 388.8,395.2 389.2,395.3 389.6,395.4 389.9,395.5 390.3,395.6 390.6,395.7 391.0,395.8 391.4,395.8 391.7,395.9 392.1,396.0 392.4,396.1 392.8,396.1 393.2,396.2 393.5,396.3 393.9,396.3 394.2,396.4 394.6,396.5 394.9,396.5 395.3,396.6 395.7,396.6 396.0,396.7 396.4,396.7 396.7,396.8 397.1,396.8 397.5,396.9 397.8,396.9 398.2,397.0 398.5,397.0 398.9,397.1 399.3,397.1 399.6,397.1 400.0,397.2 400.3,397.2 400.7,397.3 401.1,397.3 401.4,397.3 401.8,397.4 402.1,397.4 402.5,397.4 402.9,397.4 403.2,397.5 403.6,397.5 403.9,397.5 404.3,397.5 404.7,397.6 405.0,397.6 405.4,397.6 405.7,397.6 406.1,397.7 406.5,397.7 406.8,397.7 407.2,397.7 407.5,397.7 407.9,397.8 408.2,397.8 408.6,397.8 409.0,397.8 409.3,397.8 409.7,397.8 410.0,397.8 410.4,397.9 410.8,397.9 411.1,397.9 411.5,397.9 411.8,397.9 412.2,397.9 412.6,397.9 412.9,397.9 413.3,397.9 413.6,397.9 414.0,398.0 414.4,398.0 414.7,398.0 415.1,398.0 415.4,398.0 415.8,398.0 416.2,398.0 416.5,398.0 416.9,398.0 417.2,398.0 417.6,398.0 418.0,398.0 418.3,398.0 418.7,398.0 419.0,398.0 419.4,398.0 419.8,398.0 420.1,398.0 420.5,398.0 420.8,398.0 421.2,398.0 421.5,398.0 421.9,398.0 422.3,398.0 422.6,397.9 423.0,397.9 423.3,397.9 423.7,397.9 424.1,397.9 424.4,397.9 424.8,397.9 425.1,397.9 425.5,397.9 425.9,397.9 426.2,397.9 426.6,397.8 426.9,397.8 427.3,397.8 427.7,397.8 428.0,397.8 428.4,397.8 428.7,397.8 429.1,397.8 429.5,397.7 429.8,397.7 430.2,397.7 430.5,397.7 430.9,397.7 431.3,397.6 431.6,397.6 432.0,397.6 432.3,397.6 432.7,397.6 433.1,397.5 433.4,397.5 433.8,397.5 434.1,397.5 434.5,397.5 434.8,397.4 435.2,397.4 435.6,397.4 435.9,397.3 436.3,397.3 436.6,397.3 437.0,397.3 437.4,397.2 437.7,397.2 438.1,397.2 438.4,397.1 438.8,397.1 439.2,397.1 439.5,397.0 439.9,397.0 440.2,397.0 440.6,396.9 441.0,396.9 441.3,396.9 441.7,396.8 442.0,396.8 442.4,396.7 442.8,396.7 443.1,396.7 443.5,396.6 443.8,396.6 444.2,396.5 444.6,396.5 444.9,396.4 445.3,396.4 445.6,396.3 446.0,396.3 446.4,396.2 446.7,396.2 447.1,396.1 447.4,396.1 447.8,396.0 448.1,395.9 448.5,395.9 448.9,395.8 449.2,395.7 449.6,395.7 449.9,395.6 450.3,395.6 450.7,395.5 451.0,395.4 451.4,395.3 451.7,395.3 452.1,395.2 452.5,395.1 452.8,395.0 453.2,395.0 453.5,394.9 453.9,394.8 454.3,394.7 454.6,394.6 455.0,394.5 455.3,394.4 455.7,394.3 456.1,394.2 456.4,394.1 456.8,394.0 457.1,393.9 457.5,393.8 457.9,393.7 458.2,393.6 458.6,393.5 458.9,393.4 459.3,393.2 459.7,393.1 460.0,393.0 460.4,392.8 460.7,392.7 461.1,392.6 461.5,392.4 461.8,392.3 462.2,392.1 462.5,392.0 462.9,391.8 463.2,391.6 463.6,391.5 464.0,391.3 464.3,391.1 464.7,390.9 465.0,390.8 465.4,390.6 465.8,390.4 466.1,390.2 466.5,390.0 466.8,389.7 467.2,389.5 467.6,389.3 467.9,389.0 468.3,388.8 468.6,388.6 469.0,388.3 469.4,388.0 469.7,387.8 470.1,387.5 470.4,387.2 470.8,386.9 471.2,386.6 471.5,386.2 471.9,385.9 472.2,385.5 472.6,385.2 473.0,384.8 473.3,384.4 473.7,384.0 474.0,383.6 474.4,383.2 474.8,382.8 475.1,382.3 475.5,381.8 475.8,381.3 476.2,380.8 476.5,380.3 476.9,379.7 477.3,379.1 477.6,378.5 478.0,377.9 478.3,377.3 478.7,376.6 479.1,375.9 479.4,375.1 479.8,374.4 480.1,373.6 480.5,372.7 480.9,371.8 481.2,370.9 481.6,370.0 481.9,368.9 482.3,367.9 482.7,366.8 483.0,365.6 483.4,364.4 483.7,363.1 484.1,361.8 484.5,360.3 484.8,358.9 485.2,357.3 485.5,355.6 485.9,353.9 486.3,352.0 486.6,350.1 487.0,348.0 487.3,345.9 487.7,343.6 488.1,341.2 488.4,338.6 488.8,335.9 489.1,333.1 489.5,330.1 489.8,326.9 490.2,323.6 490.6,320.0 490.9,316.3 491.3,312.4 491.6,308.4 492.0,304.1 492.4,299.7 492.7,295.1 493.1,290.3 493.4,285.5 493.8,280.5 494.2,275.5 494.5,270.4 494.9,265.4 495.2,260.6 495.6,255.8 496.0,251.4 496.3,247.3 496.7,243.6 497.0,240.4 497.4,237.8 497.8,235.9 498.1,234.6 498.5,234.1 498.8,234.4 499.2,235.4 499.6,237.1 499.9,239.5 500.3,242.5 500.6,246.0 501.0,250.0 501.4,254.4 501.7,259.0 502.1,263.8 502.4,268.8 502.8,273.8 503.1,278.9 503.5,283.9 503.9,288.8 504.2,293.6 504.6,298.2 504.9,302.7 505.3,307.0 505.7,311.2 506.0,315.1 506.4,318.9 506.7,322.5 507.1,325.9 507.5,329.1 507.8,332.2 508.2,335.1 508.5,337.8 508.9,340.4 509.3,342.9 509.6,345.2 510.0,347.4 510.3,349.5 510.7,351.5 511.1,353.4 511.4,355.2 511.8,356.9 512.1,358.5 512.5,360.0 512.9,361.4 513.2,362.8 513.6,364.1 513.9,365.4 514.3,366.5 514.7,367.7 515.0,368.7 515.4,369.8 515.7,370.8 516.1,371.7 516.5,372.6 516.8,373.4 517.2,374.3 517.5,375.0 517.9,375.8 518.2,376.5 518.6,377.2 519.0,377.9 519.3,378.5 519.7,379.1 520.0,379.7 520.4,380.3 520.8,380.8 521.1,381.4 521.5,381.9 521.8,382.3 522.2,382.8 522.6,383.3 522.9,383.7 523.3,384.1 523.6,384.5 524.0,384.9 524.4,385.3 524.7,385.7 525.1,386.0 525.4,386.4 525.8,386.7 526.2,387.0 526.5,387.3 526.9,387.6 527.2,387.9 527.6,388.2 528.0,388.5 528.3,388.7 528.7,389.0 529.0,389.3 529.4,389.5 529.8,389.7 530.1,390.0 530.5,390.2 530.8,390.4 531.2,390.6 531.5,390.8 531.9,391.0 532.3,391.2 532.6,391.4 533.0,391.6 533.3,391.8 533.7,391.9 534.1,392.1 534.4,392.3 534.8,392.4 535.1,392.6 535.5,392.7 535.9,392.9 536.2,393.0 536.6,393.2 536.9,393.3 537.3,393.4"/>
<polyline stroke="#fdb813" points="304.0,397.9 304.4,397.9 304.7,397.8 305.1,397.8 305.4,397.7 305.8,397.6 306.2,397.6 306.5,397.5 306.9,397.5 307.2,397.4 307.6,397.3 308.0,397.3 308.3,397.2 308.7,397.1 309.0,397.0 309.4,397.0 309.8,396.9 310.1,396.8 310.5,396.7 310.8,396.7 311.2,396.6 311.5,396.5 311.9,396.4 312.3,396.3 312.6,396.3 313.0,396.2 313.3,396.1 313.7,396.0 314.1,395.9 314.4,395.8 314.8,395.7 315.1,395.6 315.5,395.5 315.9,395.4 316.2,395.4 316.6,395.3 316.9,395.2 317.3,395.1 317.7,395.0 318.0,394.9 318.4,394.8 318.7,394.7 319.1,394.6 319.5,394.5 319.8,394.4 320.2,394.3 320.5,394.2 320.9,394.1 321.3,394.0 321.6,393.9 322.0,393.8 322.3,393.7 322.7,393.6 323.1,393.5 323.4,393.4 323.8,393.3 324.1,393.2 324.5,393.1 324.8,393.0 325.2,392.9 325.6,392.8 325.9,392.7 326.3,392.6 326.6,392.5 327.0,392.4 327.4,392.2 327.7,392.1 328.1,392.0 328.4,391.8 328.8,391.7 329.2,391.5 329.5,391.4 329.9,391.2 330.2,391.1 330.6,390.9 331.0,390.7 331.3,390.5 331.7,390.3 332.0,390.1 332.4,389.9 332.8,389.7 333.1,389.4 333.5,389.2 333.8,388.9 334.2,388.7 334.6,388.4 334.9,388.1 335.3,387.8 335.6,387.4 336.0,387.1 336.4,386.7 336.7,386.3 337.1,385.9 337.4,385.5 337.8,385.0 338.2,384.6 338.5,384.1 338.9,383.5 339.2,383.0 339.6,382.4 339.9,381.7 340.3,381.1 340.7,380.4 341.0,379.6 341.4,378.8 341.7,378.0 342.1,377.1 342.5,376.2 342.8,375.2 343.2,374.1 343.5,372.9 343.9,371.7 344.3,370.4 344.6,369.0 345.0,367.5 345.3,365.8 345.7,364.1 346.1,362.2 346.4,360.1 346.8,357.9 347.1,355.6 347.5,353.0 347.9,350.1 348.2,347.1 348.6,343.7 348.9,340.1 349.3,336.1 349.7,331.8 350.0,327.1 350.4,322.0 350.7,316.4 351.1,310.4 351.5,303.9 351.8,297.0 352.2,289.6 352.5,281.9 352.9,274.0 353.2,266.0 353.6,258.1 354.0,250.7 354.3,244.1 354.7,238.6 355.0,234.5 355.4,232.1 355.8,231.5 356.1,232.9 356.5,236.1 356.8,240.9 357.2,246.9 357.6,254.0 357.9,261.6 358.3,269.5 358.6,277.5 359.0,285.4 359.4,293.0 359.7,300.2 360.1,306.9 360.4,313.2 360.8,319.0 361.2,324.4 361.5,329.4 361.9,333.9 362.2,338.1 362.6,341.9 363.0,345.4 363.3,348.6 363.7,351.6 364.0,354.3 364.4,356.8 364.8,359.1 365.1,361.3 365.5,363.2 365.8,365.1 366.2,366.8 366.5,368.4 366.9,369.9 367.3,371.2 367.6,372.5 368.0,373.7 368.3,374.9 368.7,375.9 369.1,376.9 369.4,377.8 369.8,378.7 370.1,379.6 370.5,380.3 370.9,381.1 371.2,381.8 371.6,382.4 371.9,383.1 372.3,383.7 372.7,384.2 373.0,384.8 373.4,385.3 373.7,385.8 374.1,386.2 374.5,386.7 374.8,387.1 375.2,387.5 375.5,387.9 375.9,388.2 376.3,388.6 376.6,388.9 377.0,389.2 377.3,389.5 377.7,389.8 378.1,390.1 378.4,390.4 378.8,390.6 379.1,390.9 379.5,391.1 379.8,391.3 380.2,391.6 380.6,391.8 380.9,392.0 381.3,392.2 381.6,392.4 382.0,392.5 382.4,392.7 382.7,392.9 383.1,393.0 383.4,393.2 383.8,393.3 384.2,393.5 384.5,393.6 384.9,393.8 385.2,393.9 385.6,394.0 386.0,394.1 386.3,394.2 386.7,394.4 387.0,394.5 387.4,394.6 387.8,394.7 388.1,394.8 388.5,394.9 388.8,394.9 389.2,395.0 389.6,395.1 389.9,395.2 390.3,395.3 390.6,395.3 391.0,395.4 391.4,395.5 391.7,395.6 392.1,395.6 392.4,395.7 392.8,395.7 393.2,395.8 393.5,395.9 393.9,395.9 394.2,396.0 394.6,396.0 394.9,396.1 395.3,396.1 395.7,396.2 396.0,396.2 396.4,396.2 396.7,396.3 397.1,396.3 397.5,396.4 397.8,396.4 398.2,396.4 398.5,396.5 398.9,396.5 399.3,396.5 399.6,396.6 400.0,396.6 400.3,396.6 400.7,396.6 401.1,396.7 401.4,396.7 401.8,396.7 402.1,396.7 402.5,396.7 402.9,396.8 403.2,396.8 403.6,396.8 403.9,396.8 404.3,396.8 404.7,396.8 405.0,396.9 405.4,396.9 405.7,396.9 406.1,396.9 406.5,396.9 406.8,396.9 407.2,396.9 407.5,396.9 407.9,396.9 408.2,396.9 408.6,396.9 409.0,396.9 409.3,396.9 409.7,396.9 410.0,396.9 410.4,396.9 410.8,396.9 411.1,396.9 411.5,396.9 411.8,396.9 412.2,396.9 412.6,396.9 412.9,396.9 413.3,396.9 413.6,396.9 414.0,396.9 414.4,396.8 414.7,396.8 415.1,396.8 415.4,396.8 415.8,396.8 416.2,396.8 416.5,396.8 416.9,396.7 417.2,396.7 417.6,396.7 418.0,396.7 418.3,396.7 418.7,396.6 419.0,396.6 419.4,396.6 419.8,396.6 420.1,396.5 420.5,396.5 420.8,396.5 421.2,396.5 421.5,396.4 421.9,396.4 422.3,396.4 422.6,396.3 423.0,396.3 423.3,396.3 423.7,396.2 424.1,396.2 424.4,396.2 424.8,396.1 425.1,396.1 425.5,396.0 425.9,396.0 426.2,396.0 426.6,395.9 426.9,395.9 427.3,395.8 427.7,395.8 428.0,395.7 428.4,395.7 428.7,395.6 429.1,395.6 429.5,395.5 429.8,395.4 430.2,395.4 430.5,395.3 430.9,395.3 431.3,395.2 431.6,395.1 432.0,395.1 432.3,395.0 432.7,394.9 433.1,394.9 433.4,394.8 433.8,394.7 434.1,394.6 434.5,394.5 434.8,394.5 435.2,394.4 435.6,394.3 435.9,394.2 436.3,394.1 436.6,394.0 437.0,393.9 437.4,393.8 437.7,393.7 438.1,393.6 438.4,393.5 438.8,393.4 439.2,393.3 439.5,393.2 439.9,393.0 440.2,392.9 440.6,392.8 441.0,392.7 441.3,392.5 441.7,392.4 442.0,392.3 442.4,392.1 442.8,392.0 443.1,391.8 443.5,391.7 443.8,391.5 444.2,391.3 444.6,391.2 444.9,391.0 445.3,390.8 445.6,390.6 446.0,390.4 446.4,390.2 446.7,390.0 447.1,389.8 447.4,389.6 447.8,389.4 448.1,389.1 448.5,388.9 448.9,388.7 449.2,388.4 449.6,388.2 449.9,387.9 450.3,387.6 450.7,387.3 451.0,387.0 451.4,386.7 451.7,386.4 452.1,386.1 452.5,385.7 452.8,385.4 453.2,385.0 453.5,384.6 453.9,384.3 454.3,383.9 454.6,383.4 455.0,383.0 455.3,382.6 455.7,382.1 456.1,381.6 456.4,381.1 456.8,380.6 457.1,380.0 457.5,379.5 457.9,378.9 458.2,378.3 458.6,377.6 458.9,376.9 459.3,376.2 459.7,375.5 460.0,374.8 460.4,374.0 460.7,373.1 461.1,372.3 461.5,371.4 461.8,370.4 462.2,369.4 462.5,368.4 462.9,367.3 463.2,366.1 463.6,364.9 464.0,363.6 464.3,362.3 464.7,360.9 465.0,359.4 465.4,357.8 465.8,356.2 466.1,354.4 466.5,352.6 466.8,350.6 467.2,348.6 467.6,346.4 467.9,344.1 468.3,341.7 468.6,339.1 469.0,336.4 469.4,333.5 469.7,330.4 470.1,327.2 470.4,323.8 470.8,320.2 471.2,316.4 471.5,312.4 471.9,308.2 472.2,303.7 472.6,299.1 473.0,294.3 473.3,289.3 473.7,284.2 474.0,278.9 474.4,273.6 474.8,268.1 475.1,262.8 475.5,257.5 475.8,252.3 476.2,247.4 476.5,242.9 476.9,238.8 477.3,235.2 477.6,232.3 478.0,230.1 478.3,228.7 478.7,228.0 479.1,228.2 479.4,229.3 479.8,231.1 480.1,233.7 480.5,237.0 480.9,240.8 481.2,245.1 481.6,249.9 481.9,254.9 482.3,260.1 482.7,265.5 483.0,270.9 483.4,276.3 483.7,281.6 484.1,286.8 484.5,291.9 484.8,296.8 485.2,301.5 485.5,306.1 485.9,310.4 486.3,314.5 486.6,318.4 487.0,322.1 487.3,325.6 487.7,329.0 488.1,332.1 488.4,335.1 488.8,337.9 489.1,340.5 489.5,343.0 489.8,345.4 490.2,347.7 490.6,349.8 490.9,351.8 491.3,353.7 491.6,355.5 492.0,357.2 492.4,358.8 492.7,360.3 493.1,361.8 493.4,363.2 493.8,364.5 494.2,365.7 494.5,366.9 494.9,368.0 495.2,369.1 495.6,370.1 496.0,371.1 496.3,372.1 496.7,372.9 497.0,373.8 497.4,374.6 497.8,375.4 498.1,376.1 498.5,376.9 498.8,377.6 499.2,378.2 499.6,378.8 499.9,379.5 500.3,380.0 500.6,380.6 501.0,381.1 501.4,381.7 501.7,382.2 502.1,382.6 502.4,383.1 502.8,383.6 503.1,384.0 503.5,384.4 503.9,384.8 504.2,385.2 504.6,385.6 504.9,385.9 505.3,386.3 505.7,386.6 506.0,386.9 506.4,387.3 506.7,387.6 507.1,387.9 507.5,388.2 507.8,388.4 508.2,388.7 508.5,389.0 508.9,389.2 509.3,389.5 509.6,389.7 510.0,389.9 510.3,390.2 510.7,390.4 511.1,390.6 511.4,390.8 511.8,391.0 512.1,391.2 512.5,391.4 512.9,391.6 513.2,391.8 513.6,391.9 513.9,392.1 514.3,392.3 514.7,392.4 515.0,392.6 515.4,392.8 515.7,392.9 516.1,393.0 516.5,393.2 516.8,393.3 517.2,393.5 517.5,393.6 517.9,393.7 518.2,393.9 518.6,394.0 519.0,394.1 519.3,394.2 519.7,394.3 520.0,394.4 520.4,394.5 520.8,394.7 521.1,394.8 521.5,394.9 521.8,395.0 522.2,395.1 522.6,395.2 522.9,395.2 523.3,395.3 523.6,395.4 524.0,395.5 524.4,395.6 524.7,395.7 525.1,395.8 525.4,395.8 525.8,395.9 526.2,396.0 526.5,396.1 526.9,396.2 527.2,396.2 527.6,396.3 528.0,396.4 528.3,396.4 528.7,396.5 529.0,396.6 529.4,396.6 529.8,396.7 530.1,396.8 530.5,396.8 530.8,396.9 531.2,396.9 531.5,397.0 531.9,397.0 532.3,397.1 532.6,397.2 533.0,397.2 533.3,397.3 533.7,397.3 534.1,397.4 534.4,397.4 534.8,397.5 535.1,397.5 535.5,397.6 535.9,397.6 536.2,397.6 536.6,397.7 536.9,397.7 537.3,397.8"/>
<polyline stroke="#18b25a" points="304.0,397.8 304.4,397.7 304.7,397.7 305.1,397.6 305.4,397.6 305.8,397.5 306.2,397.4 306.5,397.4 306.9,397.3 307.2,397.2 307.6,397.2 308.0,397.1 308.3,397.0 308.7,397.0 309.0,396.9 309.4,396.8 309.8,396.7 310.1,396.6 310.5,396.6 310.8,396.5 311.2,396.4 311.5,396.3 311.9,396.2 312.3,396.1 312.6,396.1 313.0,396.0 313.3,395.9 313.7,395.8 314.1,395.7 314.4,395.6 314.8,395.5 315.1,395.4 315.5,395.3 315.9,395.2 316.2,395.1 316.6,395.0 316.9,394.9 317.3,394.8 317.7,394.7 318.0,394.6 318.4,394.5 318.7,394.4 319.1,394.3 319.5,394.2 319.8,394.1 320.2,394.0 320.5,393.9 320.9,393.8 321.3,393.7 321.6,393.6 322.0,393.5 322.3,393.4 322.7,393.3 323.1,393.2 323.4,393.1 323.8,393.0 324.1,392.9 324.5,392.8 324.8,392.6 325.2,392.5 325.6,392.4 325.9,392.3 326.3,392.2 326.6,392.0 327.0,391.9 327.4,391.8 327.7,391.6 328.1,391.5 328.4,391.3 328.8,391.2 329.2,391.0 329.5,390.9 329.9,390.7 330.2,390.5 330.6,390.3 331.0,390.1 331.3,389.9 331.7,389.7 332.0,389.5 332.4,389.2 332.8,389.0 333.1,388.7 333.5,388.4 333.8,388.1 334.2,387.8 334.6,387.5 334.9,387.2 335.3,386.8 335.6,386.5 336.0,386.1 336.4,385.7 336.7,385.2 337.1,384.8 337.4,384.3 337.8,383.8 338.2,383.3 338.5,382.7 338.9,382.1 339.2,381.5 339.6,380.8 339.9,380.1 340.3,379.4 340.7,378.6 341.0,377.7 341.4,376.8 341.7,375.9 342.1,374.9 342.5,373.8 342.8,372.6 343.2,371.4 343.5,370.1 343.9,368.7 344.3,367.1 344.6,365.5 345.0,363.8 345.3,361.9 345.7,359.8 346.1,357.6 346.4,355.2 346.8,352.6 347.1,349.8 347.5,346.7 347.9,343.3 348.2,339.7 348.6,335.7 348.9,331.4 349.3,326.6 349.7,321.5 350.0,315.9 350.4,309.9 350.7,303.4 351.1,296.4 351.5,289.0 351.8,281.3 352.2,273.3 352.5,265.3 352.9,257.4 353.2,250.0 353.6,243.3 354.0,237.7 354.3,233.6 354.7,231.2 355.0,230.7 355.4,232.0 355.8,235.2 356.1,240.0 356.5,246.1 356.8,253.1 357.2,260.8 357.6,268.8 357.9,276.8 358.3,284.7 358.6,292.3 359.0,299.5 359.4,306.3 359.7,312.6 360.1,318.5 360.4,323.8 360.8,328.8 361.2,333.4 361.5,337.5 361.9,341.4 362.2,344.9 362.6,348.1 363.0,351.1 363.3,353.8 363.7,356.3 364.0,358.7 364.4,360.8 364.8,362.8 365.1,364.6 365.5,366.4 365.8,367.9 366.2,369.4 366.5,370.8 366.9,372.1 367.3,373.3 367.6,374.4 368.0,375.5 368.3,376.5 368.7,377.4 369.1,378.3 369.4,379.1 369.8,379.9 370.1,380.7 370.5,381.4 370.9,382.0 371.2,382.6 371.6,383.2 371.9,383.8 372.3,384.3 372.7,384.8 373.0,385.3 373.4,385.8 373.7,386.2 374.1,386.6 374.5,387.0 374.8,387.4 375.2,387.8 375.5,388.1 375.9,388.5 376.3,388.8 376.6,389.1 377.0,389.4 377.3,389.6 377.7,389.9 378.1,390.2 378.4,390.4 378.8,390.6 379.1,390.8 379.5,391.1 379.8,391.3 380.2,391.5 380.6,391.7 380.9,391.8 381.3,392.0 381.6,392.2 382.0,392.3 382.4,392.5 382.7,392.6 383.1,392.8 383.4,392.9 383.8,393.0 384.2,393.2 384.5,393.3 384.9,393.4 385.2,393.5 385.6,393.6 386.0,393.7 386.3,393.8 386.7,393.9 387.0,394.0 387.4,394.1 387.8,394.2 388.1,394.3 388.5,394.4 388.8,394.4 389.2,394.5 389.6,394.6 389.9,394.6 390.3,394.7 390.6,394.8 391.0,394.8 391.4,394.9 391.7,394.9 392.1,395.0 392.4,395.0 392.8,395.1 393.2,395.1 393.5,395.2 393.9,395.2 394.2,395.2 394.6,395.3 394.9,395.3 395.3,395.3 395.7,395.4 396.0,395.4 396.4,395.4 396.7,395.4 397.1,395.5 397.5,395.5 397.8,395.5 398.2,395.5 398.5,395.5 398.9,395.6 399.3,395.6 399.6,395.6 400.0,395.6 400.3,395.6 400.7,395.6 401.1,395.6 401.4,395.6 401.8,395.6 402.1,395.6 402.5,395.6 402.9,395.6 403.2,395.6 403.6,395.6 403.9,395.6 404.3,395.6 404.7,395.6 405.0,395.6 405.4,395.5 405.7,395.5 406.1,395.5 406.5,395.5 406.8,395.5 407.2,395.5 407.5,395.4 407.9,395.4 408.2,395.4 408.6,395.4 409.0,395.3 409.3,395.3 409.7,395.3 410.0,395.2 410.4,395.2 410.8,395.2 411.1,395.1 411.5,395.1 411.8,395.1 412.2,395.0 412.6,395.0 412.9,394.9 413.3,394.9 413.6,394.8 414.0,394.8 414.4,394.7 414.7,394.7 415.1,394.6 415.4,394.6 415.8,394.5 416.2,394.4 416.5,394.4 416.9,394.3 417.2,394.2 417.6,394.2 418.0,394.1 418.3,394.0 418.7,393.9 419.0,393.8 419.4,393.8 419.8,393.7 420.1,393.6 420.5,393.5 420.8,393.4 421.2,393.3 421.5,393.2 421.9,393.1 422.3,393.0 422.6,392.9 423.0,392.8 423.3,392.7 423.7,392.5 424.1,392.4 424.4,392.3 424.8,392.2 425.1,392.0 425.5,391.9 425.9,391.7 426.2,391.6 426.6,391.4 426.9,391.3 427.3,391.1 427.7,391.0 428.0,390.8 428.4,390.6 428.7,390.4 429.1,390.2 429.5,390.1 429.8,389.9 430.2,389.6 430.5,389.4 430.9,389.2 431.3,389.0 431.6,388.7 432.0,388.5 432.3,388.3 432.7,388.0 433.1,387.7 433.4,387.4 433.8,387.2 434.1,386.9 434.5,386.6 434.8,386.2 435.2,385.9 435.6,385.6 435.9,385.2 436.3,384.8 436.6,384.5 437.0,384.1 437.4,383.7 437.7,383.2 438.1,382.8 438.4,382.3 438.8,381.9 439.2,381.4 439.5,380.8 439.9,380.3 440.2,379.7 440.6,379.2 441.0,378.5 441.3,377.9 441.7,377.2 442.0,376.6 442.4,375.8 442.8,375.1 443.1,374.3 443.5,373.4 443.8,372.6 444.2,371.7 444.6,370.7 444.9,369.7 445.3,368.7 445.6,367.6 446.0,366.4 446.4,365.2 446.7,363.9 447.1,362.5 447.4,361.1 447.8,359.6 448.1,358.0 448.5,356.3 448.9,354.5 449.2,352.7 449.6,350.7 449.9,348.6 450.3,346.3 450.7,344.0 451.0,341.4 451.4,338.8 451.7,336.0 452.1,333.0 452.5,329.8 452.8,326.4 453.2,322.9 453.5,319.1 453.9,315.1 454.3,310.9 454.6,306.5 455.0,301.9 455.3,297.1 455.7,292.0 456.1,286.8 456.4,281.5 456.8,276.0 457.1,270.4 457.5,264.9 457.9,259.4 458.2,254.0 458.6,248.9 458.9,244.1 459.3,239.7 459.7,235.9 460.0,232.8 460.4,230.4 460.7,228.8 461.1,228.0 461.5,228.2 461.8,229.2 462.2,231.1 462.5,233.8 462.9,237.2 463.2,241.2 463.6,245.7 464.0,250.7 464.3,255.9 464.7,261.3 465.0,266.9 465.4,272.4 465.8,278.0 466.1,283.4 466.5,288.8 466.8,293.9 467.2,298.9 467.6,303.7 467.9,308.2 468.3,312.6 468.6,316.7 469.0,320.6 469.4,324.3 469.7,327.8 470.1,331.1 470.4,334.2 470.8,337.2 471.2,339.9 471.5,342.5 471.9,345.0 472.2,347.3 472.6,349.5 473.0,351.6 473.3,353.6 473.7,355.4 474.0,357.2 474.4,358.8 474.8,360.4 475.1,361.9 475.5,363.3 475.8,364.6 476.2,365.9 476.5,367.1 476.9,368.3 477.3,369.4 477.6,370.4 478.0,371.4 478.3,372.4 478.7,373.3 479.1,374.1 479.4,374.9 479.8,375.7 480.1,376.5 480.5,377.2 480.9,377.9 481.2,378.6 481.6,379.2 481.9,379.8 482.3,380.4 482.7,381.0 483.0,381.5 483.4,382.0 483.7,382.5 484.1,383.0 484.5,383.5 484.8,383.9 485.2,384.3 485.5,384.8 485.9,385.2 486.3,385.5 486.6,385.9 487.0,386.3 487.3,386.6 487.7,387.0 488.1,387.3 488.4,387.6 488.8,387.9 489.1,388.2 489.5,388.5 489.8,388.8 490.2,389.0 490.6,389.3 490.9,389.5 491.3,389.8 491.6,390.0 492.0,390.2 492.4,390.5 492.7,390.7 493.1,390.9 493.4,391.1 493.8,391.3 494.2,391.5 494.5,391.7 494.9,391.9 495.2,392.0 495.6,392.2 496.0,392.4 496.3,392.5 496.7,392.7 497.0,392.8 497.4,393.0 497.8,393.1 498.1,393.3 498.5,393.4 498.8,393.6 499.2,393.7 499.6,393.8 499.9,394.0 500.3,394.1 500.6,394.2 501.0,394.3 501.4,394.4 501.7,394.5 502.1,394.7 502.4,394.8 502.8,394.9 503.1,395.0 503.5,395.1 503.9,395.2 504.2,395.3 504.6,395.3 504.9,395.4 505.3,395.5 505.7,395.6 506.0,395.7 506.4,395.8 506.7,395.9 507.1,395.9 507.5,396.0 507.8,396.1 508.2,396.2 508.5,396.2 508.9,396.3 509.3,396.4 509.6,396.5 510.0,396.5 510.3,396.6 510.7,396.7 511.1,396.7 511.4,396.8 511.8,396.8 512.1,396.9 512.5,397.0 512.9,397.0 513.2,397.1 513.6,397.1 513.9,397.2 514.3,397.2 514.7,397.3 515.0,397.3 515.4,397.4 515.7,397.4 516.1,397.5 516.5,397.5 516.8,397.6 517.2,397.6 517.5,397.7 517.9,397.7 518.2,397.8 518.6,397.8 519.0,397.9 519.3,397.9 519.7,397.9 520.0,398.0 520.4,398.0 520.8,398.1 521.1,398.1 521.5,398.1 521.8,398.2 522.2,398.2 522.6,398.2 522.9,398.3 523.3,398.3 523.6,398.3 524.0,398.4 524.4,398.4 524.7,398.4 525.1,398.5 525.4,398.5 525.8,398.5 526.2,398.6 526.5,398.6 526.9,398.6 527.2,398.7 527.6,398.7 528.0,398.7 528.3,398.7 528.7,398.8 529.0,398.8 529.4,398.8 529.8,398.9 530.1,398.9 530.5,398.9 530.8,398.9 531.2,399.0 531.5,399.0 531.9,399.0 532.3,399.0 532.6,399.1 533.0,399.1 533.3,399.1 533.7,399.1 534.1,399.1 534.4,399.2 534.8,399.2 535.1,399.2 535.5,399.2 535.9,399.2 536.2,399.3 536.6,399.3 536.9,399.3 537.3,399.3"/>
<polyline stroke="#55539f" points="304.0,397.6 304.4,397.6 304.7,397.5 305.1,397.5 305.4,397.4 305.8,397.3 306.2,397.3 306.5,397.2 306.9,397.1 307.2,397.1 307.6,397.0 308.0,396.9 308.3,396.8 308.7,396.8 309.0,396.7 309.4,396.6 309.8,396.5 310.1,396.4 310.5,396.4 310.8,396.3 311.2,396.2 311.5,396.1 311.9,396.0 312.3,395.9 312.6,395.8 313.0,395.7 313.3,395.6 313.7,395.6 314.1,395.5 314.4,395.4 314.8,395.3 315.1,395.2 315.5,395.1 315.9,395.0 316.2,394.9 316.6,394.8 316.9,394.7 317.3,394.5 317.7,394.4 318.0,394.3 318.4,394.2 318.7,394.1 319.1,394.0 319.5,393.9 319.8,393.8 320.2,393.7 320.5,393.6 320.9,393.5 321.3,393.4 321.6,393.3 322.0,393.1 322.3,393.0 322.7,392.9 323.1,392.8 323.4,392.7 323.8,392.6 324.1,392.5 324.5,392.3 324.8,392.2 325.2,392.1 325.6,392.0 325.9,391.8 326.3,391.7 326.6,391.5 327.0,391.4 327.4,391.3 327.7,391.1 328.1,390.9 328.4,390.8 328.8,390.6 329.2,390.4 329.5,390.2 329.9,390.0 330.2,389.8 330.6,389.6 331.0,389.4 331.3,389.2 331.7,388.9 332.0,388.7 332.4,388.4 332.8,388.1 333.1,387.9 333.5,387.5 333.8,387.2 334.2,386.9 334.6,386.5 334.9,386.2 335.3,385.8 335.6,385.4 336.0,384.9 336.4,384.5 336.7,384.0 337.1,383.5 337.4,382.9 337.8,382.4 338.2,381.8 338.5,381.1 338.9,380.5 339.2,379.8 339.6,379.0 339.9,378.2 340.3,377.4 340.7,376.5 341.0,375.5 341.4,374.5 341.7,373.4 342.1,372.2 342.5,371.0 342.8,369.7 343.2,368.2 343.5,366.7 343.9,365.1 344.3,363.3 344.6,361.4 345.0,359.3 345.3,357.1 345.7,354.7 346.1,352.1 346.4,349.2 346.8,346.1 347.1,342.8 347.5,339.1 347.9,335.1 348.2,330.7 348.6,326.0 348.9,320.8 349.3,315.2 349.7,309.1 350.0,302.6 350.4,295.6 350.7,288.1 351.1,280.4 351.5,272.3 351.8,264.3 352.2,256.3 352.5,248.9 352.9,242.2 353.2,236.6 353.6,232.4 354.0,230.0 354.3,229.4 354.7,230.8 355.0,234.0 355.4,238.8 355.8,244.9 356.1,252.0 356.5,259.7 356.8,267.7 357.2,275.8 357.6,283.7 357.9,291.3 358.3,298.6 358.6,305.4 359.0,311.7 359.4,317.6 359.7,323.0 360.1,328.0 360.4,332.6 360.8,336.8 361.2,340.7 361.5,344.2 361.9,347.4 362.2,350.4 362.6,353.2 363.0,355.7 363.3,358.0 363.7,360.2 364.0,362.2 364.4,364.0 364.8,365.7 365.1,367.3 365.5,368.8 365.8,370.2 366.2,371.5 366.5,372.7 366.9,373.8 367.3,374.9 367.6,375.9 368.0,376.8 368.3,377.7 368.7,378.5 369.1,379.3 369.4,380.0 369.8,380.7 370.1,381.4 370.5,382.0 370.9,382.6 371.2,383.2 371.6,383.7 371.9,384.2 372.3,384.7 372.7,385.1 373.0,385.6 373.4,386.0 373.7,386.4 374.1,386.7 374.5,387.1 374.8,387.4 375.2,387.7 375.5,388.0 375.9,388.3 376.3,388.6 376.6,388.9 377.0,389.1 377.3,389.4 377.7,389.6 378.1,389.8 378.4,390.1 378.8,390.3 379.1,390.5 379.5,390.6 379.8,390.8 380.2,391.0 380.6,391.2 380.9,391.3 381.3,391.5 381.6,391.6 382.0,391.7 382.4,391.9 382.7,392.0 383.1,392.1 383.4,392.2 383.8,392.3 384.2,392.4 384.5,392.5 384.9,392.6 385.2,392.7 385.6,392.8 386.0,392.9 386.3,392.9 386.7,393.0 387.0,393.1 387.4,393.2 387.8,393.2 388.1,393.3 388.5,393.3 388.8,393.4 389.2,393.4 389.6,393.5 389.9,393.5 390.3,393.5 390.6,393.6 391.0,393.6 391.4,393.6 391.7,393.7 392.1,393.7 392.4,393.7 392.8,393.7 393.2,393.7 393.5,393.7 393.9,393.8 394.2,393.8 394.6,393.8 394.9,393.8 395.3,393.8 395.7,393.8 396.0,393.7 396.4,393.7 396.7,393.7 397.1,393.7 397.5,393.7 397.8,393.7 398.2,393.7 398.5,393.6 398.9,393.6 399.3,393.6 399.6,393.5 400.0,393.5 400.3,393.5 400.7,393.4 401.1,393.4 401.4,393.3 401.8,393.3 402.1,393.2 402.5,393.2 402.9,393.1 403.2,393.1 403.6,393.0 403.9,392.9 404.3,392.9 404.7,392.8 405.0,392.7 405.4,392.6 405.7,392.6 406.1,392.5 406.5,392.4 406.8,392.3 407.2,392.2 407.5,392.1 407.9,392.0 408.2,391.9 408.6,391.8 409.0,391.7 409.3,391.6 409.7,391.4 410.0,391.3 410.4,391.2 410.8,391.0 411.1,390.9 411.5,390.7 411.8,390.6 412.2,390.4 412.6,390.3 412.9,390.1 413.3,389.9 413.6,389.7 414.0,389.6 414.4,389.4 414.7,389.2 415.1,389.0 415.4,388.7 415.8,388.5 416.2,388.3 416.5,388.1 416.9,387.8 417.2,387.5 417.6,387.3 418.0,387.0 418.3,386.7 418.7,386.4 419.0,386.1 419.4,385.8 419.8,385.5 420.1,385.1 420.5,384.8 420.8,384.4 421.2,384.0 421.5,383.6 421.9,383.2 422.3,382.8 422.6,382.3 423.0,381.8 423.3,381.3 423.7,380.8 424.1,380.3 424.4,379.7 424.8,379.2 425.1,378.6 425.5,377.9 425.9,377.3 426.2,376.6 426.6,375.9 426.9,375.1 427.3,374.3 427.7,373.5 428.0,372.6 428.4,371.7 428.7,370.8 429.1,369.7 429.5,368.7 429.8,367.6 430.2,366.4 430.5,365.2 430.9,363.9 431.3,362.5 431.6,361.0 432.0,359.5 432.3,357.9 432.7,356.2 433.1,354.4 433.4,352.4 433.8,350.4 434.1,348.3 434.5,346.0 434.8,343.5 435.2,340.9 435.6,338.2 435.9,335.3 436.3,332.2 436.6,328.9 437.0,325.4 437.4,321.8 437.7,317.9 438.1,313.7 438.4,309.4 438.8,304.8 439.2,300.0 439.5,295.0 439.9,289.8 440.2,284.5 440.6,279.0 441.0,273.4 441.3,267.8 441.7,262.2 442.0,256.7 442.4,251.5 442.8,246.6 443.1,242.1 443.5,238.1 443.8,234.9 444.2,232.3 444.6,230.6 444.9,229.8 445.3,229.9 445.6,230.9 446.0,232.8 446.4,235.5 446.7,239.0 447.1,243.0 447.4,247.6 447.8,252.6 448.1,257.9 448.5,263.5 448.9,269.1 449.2,274.7 449.6,280.3 449.9,285.8 450.3,291.1 450.7,296.3 451.0,301.2 451.4,306.0 451.7,310.5 452.1,314.8 452.5,318.9 452.8,322.8 453.2,326.5 453.5,329.9 453.9,333.2 454.3,336.2 454.6,339.1 455.0,341.8 455.3,344.4 455.7,346.8 456.1,349.1 456.4,351.2 456.8,353.2 457.1,355.2 457.5,357.0 457.9,358.7 458.2,360.3 458.6,361.8 458.9,363.3 459.3,364.6 459.7,365.9 460.0,367.2 460.4,368.3 460.7,369.4 461.1,370.5 461.5,371.5 461.8,372.5 462.2,373.4 462.5,374.3 462.9,375.1 463.2,375.9 463.6,376.7 464.0,377.4 464.3,378.1 464.7,378.8 465.0,379.4 465.4,380.0 465.8,380.6 466.1,381.2 466.5,381.7 466.8,382.2 467.2,382.7 467.6,383.2 467.9,383.7 468.3,384.1 468.6,384.6 469.0,385.0 469.4,385.4 469.7,385.8 470.1,386.1 470.4,386.5 470.8,386.8 471.2,387.2 471.5,387.5 471.9,387.8 472.2,388.1 472.6,388.4 473.0,388.7 473.3,389.0 473.7,389.2 474.0,389.5 474.4,389.7 474.8,390.0 475.1,390.2 475.5,390.4 475.8,390.7 476.2,390.9 476.5,391.1 476.9,391.3 477.3,391.5 477.6,391.7 478.0,391.8 478.3,392.0 478.7,392.2 479.1,392.4 479.4,392.5 479.8,392.7 480.1,392.9 480.5,393.0 480.9,393.2 481.2,393.3 481.6,393.4 481.9,393.6 482.3,393.7 482.7,393.9 483.0,394.0 483.4,394.1 483.7,394.2 484.1,394.3 484.5,394.5 484.8,394.6 485.2,394.7 485.5,394.8 485.9,394.9 486.3,395.0 486.6,395.1 487.0,395.2 487.3,395.3 487.7,395.4 488.1,395.5 488.4,395.6 488.8,395.7 489.1,395.7 489.5,395.8 489.8,395.9 490.2,396.0 490.6,396.1 490.9,396.1 491.3,396.2 491.6,396.3 492.0,396.4 492.4,396.4 492.7,396.5 493.1,396.6 493.4,396.6 493.8,396.7 494.2,396.8 494.5,396.8 494.9,396.9 495.2,396.9 495.6,397.0 496.0,397.1 496.3,397.1 496.7,397.2 497.0,397.2 497.4,397.3 497.8,397.3 498.1,397.4 498.5,397.4 498.8,397.5 499.2,397.5 499.6,397.6 499.9,397.6 500.3,397.7 500.6,397.7 501.0,397.8 501.4,397.8 501.7,397.9 502.1,397.9 502.4,397.9 502.8,398.0 503.1,398.0 503.5,398.1 503.9,398.1 504.2,398.1 504.6,398.2 504.9,398.2 505.3,398.2 505.7,398.3 506.0,398.3 506.4,398.3 506.7,398.4 507.1,398.4 507.5,398.4 507.8,398.5 508.2,398.5 508.5,398.5 508.9,398.6 509.3,398.6 509.6,398.6 510.0,398.7 510.3,398.7 510.7,398.7 511.1,398.8 511.4,398.8 511.8,398.8 512.1,398.8 512.5,398.9 512.9,398.9 513.2,398.9 513.6,398.9 513.9,399.0 514.3,399.0 514.7,399.0 515.0,399.0 515.4,399.1 515.7,399.1 516.1,399.1 516.5,399.1 516.8,399.1 517.2,399.2 517.5,399.2 517.9,399.2 518.2,399.2 518.6,399.3 519.0,399.3 519.3,399.3 519.7,399.3 520.0,399.3 520.4,399.4 520.8,399.4 521.1,399.4 521.5,399.4 521.8,399.4 522.2,399.4 522.6,399.5 522.9,399.5 523.3,399.5 523.6,399.5 524.0,399.5 524.4,399.6 524.7,399.6 525.1,399.6 525.4,399.6 525.8,399.6 526.2,399.6 526.5,399.6 526.9,399.7 527.2,399.7 527.6,399.7 528.0,399.7 528.3,399.7 528.7,399.7 529.0,399.8 529.4,399.8 529.8,399.8 530.1,399.8 530.5,399.8 530.8,399.8 531.2,399.8 531.5,399.8 531.9,399.9 532.3,399.9 532.6,399.9 533.0,399.9 533.3,399.9 533.7,399.9 534.1,399.9 534.4,399.9 534.8,400.0 535.1,400.0 535.5,400.0 535.9,400.0 536.2,400.0 536.6,400.0 536.9,400.0 537.3,400.0"/>
<polyline stroke="#151515" points="304.0,397.5 304.4,397.4 304.7,397.4 305.1,397.3 305.4,397.2 305.8,397.2 306.2,397.1 306.5,397.0 306.9,397.0 307.2,396.9 307.6,396.8 308.0,396.7 308.3,396.7 308.7,396.6 309.0,396.5 309.4,396.4 309.8,396.3 310.1,396.3 310.5,396.2 310.8,396.1 311.2,396.0 311.5,395.9 311.9,395.8 312.3,395.7 312.6,395.6 313.0,395.5 313.3,395.4 313.7,395.3 314.1,395.2 314.4,395.1 314.8,395.0 315.1,394.9 315.5,394.8 315.9,394.7 316.2,394.6 316.6,394.5 316.9,394.4 317.3,394.3 317.7,394.2 318.0,394.1 318.4,394.0 318.7,393.8 319.1,393.7 319.5,393.6 319.8,393.5 320.2,393.4 320.5,393.3 320.9,393.2 321.3,393.0 321.6,392.9 322.0,392.8 322.3,392.7 322.7,392.6 323.1,392.4 323.4,392.3 323.8,392.2 324.1,392.1 324.5,391.9 324.8,391.8 325.2,391.7 325.6,391.5 325.9,391.4 326.3,391.2 326.6,391.1 327.0,390.9 327.4,390.8 327.7,390.6 328.1,390.4 328.4,390.3 328.8,390.1 329.2,389.9 329.5,389.7 329.9,389.5 330.2,389.2 330.6,389.0 331.0,388.8 331.3,388.5 331.7,388.3 332.0,388.0 332.4,387.7 332.8,387.4 333.1,387.1 333.5,386.7 333.8,386.4 334.2,386.0 334.6,385.6 334.9,385.2 335.3,384.8 335.6,384.4 336.0,383.9 336.4,383.4 336.7,382.9 337.1,382.3 337.4,381.7 337.8,381.1 338.2,380.4 338.5,379.7 338.9,379.0 339.2,378.2 339.6,377.4 339.9,376.5 340.3,375.6 340.7,374.6 341.0,373.5 341.4,372.4 341.7,371.2 342.1,369.9 342.5,368.5 342.8,367.0 343.2,365.4 343.5,363.7 343.9,361.9 344.3,359.9 344.6,357.7 345.0,355.4 345.3,352.8 345.7,350.1 346.1,347.1 346.4,343.9 346.8,340.3 347.1,336.5 347.5,332.3 347.9,327.7 348.2,322.7 348.6,317.3 348.9,311.4 349.3,305.0 349.7,298.2 350.0,290.9 350.4,283.3 350.7,275.3 351.1,267.2 351.5,259.1 351.8,251.3 352.2,244.1 352.5,237.9 352.9,233.0 353.2,229.6 353.6,228.1 354.0,228.5 354.3,230.8 354.7,234.8 355.0,240.4 355.4,247.0 355.8,254.5 356.1,262.4 356.5,270.5 356.8,278.6 357.2,286.4 357.6,293.9 357.9,301.0 358.3,307.6 358.6,313.8 359.0,319.4 359.4,324.6 359.7,329.4 360.1,333.9 360.4,337.9 360.8,341.6 361.2,345.0 361.5,348.1 361.9,351.0 362.2,353.6 362.6,356.1 363.0,358.3 363.3,360.4 363.7,362.3 364.0,364.1 364.4,365.7 364.8,367.3 365.1,368.7 365.5,370.0 365.8,371.3 366.2,372.4 366.5,373.5 366.9,374.6 367.3,375.5 367.6,376.4 368.0,377.3 368.3,378.1 368.7,378.8 369.1,379.5 369.4,380.2 369.8,380.8 370.1,381.4 370.5,382.0 370.9,382.5 371.2,383.0 371.6,383.5 371.9,384.0 372.3,384.4 372.7,384.8 373.0,385.2 373.4,385.6 373.7,385.9 374.1,386.2 374.5,386.5 374.8,386.8 375.2,387.1 375.5,387.4 375.9,387.7 376.3,387.9 376.6,388.1 377.0,388.4 377.3,388.6 377.7,388.8 378.1,389.0 378.4,389.1 378.8,389.3 379.1,389.5 379.5,389.6 379.8,389.8 380.2,389.9 380.6,390.0 380.9,390.1 381.3,390.3 381.6,390.4 382.0,390.5 382.4,390.6 382.7,390.7 383.1,390.7 383.4,390.8 383.8,390.9 384.2,390.9 384.5,391.0 384.9,391.1 385.2,391.1 385.6,391.1 386.0,391.2 386.3,391.2 386.7,391.2 387.0,391.3 387.4,391.3 387.8,391.3 388.1,391.3 388.5,391.3 388.8,391.3 389.2,391.3 389.6,391.3 389.9,391.3 390.3,391.3 390.6,391.3 391.0,391.2 391.4,391.2 391.7,391.2 392.1,391.1 392.4,391.1 392.8,391.0 393.2,391.0 393.5,390.9 393.9,390.8 394.2,390.8 394.6,390.7 394.9,390.6 395.3,390.5 395.7,390.5 396.0,390.4 396.4,390.3 396.7,390.2 397.1,390.1 397.5,389.9 397.8,389.8 398.2,389.7 398.5,389.6 398.9,389.4 399.3,389.3 399.6,389.1 400.0,389.0 400.3,388.8 400.7,388.6 401.1,388.4 401.4,388.3 401.8,388.1 402.1,387.9 402.5,387.6 402.9,387.4 403.2,387.2 403.6,386.9 403.9,386.7 404.3,386.4 404.7,386.2 405.0,385.9 405.4,385.6 405.7,385.3 406.1,385.0 406.5,384.6 406.8,384.3 407.2,383.9 407.5,383.5 407.9,383.1 408.2,382.7 408.6,382.3 409.0,381.9 409.3,381.4 409.7,380.9 410.0,380.4 410.4,379.9 410.8,379.3 411.1,378.7 411.5,378.1 411.8,377.5 412.2,376.8 412.6,376.1 412.9,375.4 413.3,374.6 413.6,373.8 414.0,373.0 414.4,372.1 414.7,371.1 415.1,370.1 415.4,369.1 415.8,368.0 416.2,366.9 416.5,365.6 416.9,364.3 417.2,363.0 417.6,361.6 418.0,360.0 418.3,358.4 418.7,356.7 419.0,354.9 419.4,353.0 419.8,350.9 420.1,348.8 420.5,346.5 420.8,344.0 421.2,341.4 421.5,338.7 421.9,335.8 422.3,332.6 422.6,329.3 423.0,325.8 423.3,322.1 423.7,318.1 424.1,314.0 424.4,309.6 424.8,305.0 425.1,300.2 425.5,295.1 425.9,289.9 426.2,284.6 426.6,279.1 426.9,273.7 427.3,268.2 427.7,262.8 428.0,257.6 428.4,252.8 428.7,248.3 429.1,244.4 429.5,241.1 429.8,238.5 430.2,236.8 430.5,235.9 430.9,236.0 431.3,237.0 431.6,238.8 432.0,241.4 432.3,244.8 432.7,248.8 433.1,253.3 433.4,258.2 433.8,263.4 434.1,268.8 434.5,274.3 434.8,279.8 435.2,285.3 435.6,290.6 435.9,295.8 436.3,300.9 436.6,305.7 437.0,310.3 437.4,314.7 437.7,318.9 438.1,322.8 438.4,326.5 438.8,330.0 439.2,333.4 439.5,336.5 439.9,339.4 440.2,342.2 440.6,344.8 441.0,347.2 441.3,349.6 441.7,351.7 442.0,353.8 442.4,355.7 442.8,357.5 443.1,359.2 443.5,360.9 443.8,362.4 444.2,363.9 444.6,365.2 444.9,366.5 445.3,367.8 445.6,368.9 446.0,370.1 446.4,371.1 446.7,372.1 447.1,373.1 447.4,374.0 447.8,374.9 448.1,375.7 448.5,376.5 448.9,377.2 449.2,378.0 449.6,378.6 449.9,379.3 450.3,379.9 450.7,380.5 451.0,381.1 451.4,381.7 451.7,382.2 452.1,382.7 452.5,383.2 452.8,383.7 453.2,384.2 453.5,384.6 453.9,385.0 454.3,385.4 454.6,385.8 455.0,386.2 455.3,386.6 455.7,386.9 456.1,387.3 456.4,387.6 456.8,387.9 457.1,388.2 457.5,388.5 457.9,388.8 458.2,389.1 458.6,389.3 458.9,389.6 459.3,389.8 459.7,390.1 460.0,390.3 460.4,390.6 460.7,390.8 461.1,391.0 461.5,391.2 461.8,391.4 462.2,391.6 462.5,391.8 462.9,392.0 463.2,392.2 463.6,392.3 464.0,392.5 464.3,392.7 464.7,392.8 465.0,393.0 465.4,393.1 465.8,393.3 466.1,393.4 466.5,393.6 466.8,393.7 467.2,393.8 467.6,394.0 467.9,394.1 468.3,394.2 468.6,394.3 469.0,394.5 469.4,394.6 469.7,394.7 470.1,394.8 470.4,394.9 470.8,395.0 471.2,395.1 471.5,395.2 471.9,395.3 472.2,395.4 472.6,395.5 473.0,395.6 473.3,395.7 473.7,395.8 474.0,395.8 474.4,395.9 474.8,396.0 475.1,396.1 475.5,396.2 475.8,396.2 476.2,396.3 476.5,396.4 476.9,396.5 477.3,396.5 477.6,396.6 478.0,396.7 478.3,396.7 478.7,396.8 479.1,396.9 479.4,396.9 479.8,397.0 480.1,397.0 480.5,397.1 480.9,397.2 481.2,397.2 481.6,397.3 481.9,397.3 482.3,397.4 482.7,397.4 483.0,397.5 483.4,397.5 483.7,397.6 484.1,397.6 484.5,397.7 484.8,397.7 485.2,397.8 485.5,397.8 485.9,397.8 486.3,397.9 486.6,397.9 487.0,398.0 487.3,398.0 487.7,398.1 488.1,398.1 488.4,398.1 488.8,398.2 489.1,398.2 489.5,398.2 489.8,398.3 490.2,398.3 490.6,398.3 490.9,398.4 491.3,398.4 491.6,398.5 492.0,398.5 492.4,398.5 492.7,398.5 493.1,398.6 493.4,398.6 493.8,398.6 494.2,398.7 494.5,398.7 494.9,398.7 495.2,398.8 495.6,398.8 496.0,398.8 496.3,398.8 496.7,398.9 497.0,398.9 497.4,398.9 497.8,398.9 498.1,399.0 498.5,399.0 498.8,399.0 499.2,399.0 499.6,399.1 499.9,399.1 500.3,399.1 500.6,399.1 501.0,399.2 501.4,399.2 501.7,399.2 502.1,399.2 502.4,399.2 502.8,399.3 503.1,399.3 503.5,399.3 503.9,399.3 504.2,399.3 504.6,399.4 504.9,399.4 505.3,399.4 505.7,399.4 506.0,399.4 506.4,399.5 506.7,399.5 507.1,399.5 507.5,399.5 507.8,399.5 508.2,399.5 508.5,399.6 508.9,399.6 509.3,399.6 509.6,399.6 510.0,399.6 510.3,399.6 510.7,399.7 511.1,399.7 511.4,399.7 511.8,399.7 512.1,399.7 512.5,399.7 512.9,399.7 513.2,399.8 513.6,399.8 513.9,399.8 514.3,399.8 514.7,399.8 515.0,399.8 515.4,399.8 515.7,399.9 516.1,399.9 516.5,399.9 516.8,399.9 517.2,399.9 517.5,399.9 517.9,399.9 518.2,399.9 518.6,400.0 519.0,400.0 519.3,400.0 519.7,400.0 520.0,400.0 520.4,400.0 520.8,400.0 521.1,400.0 521.5,400.0 521.8,400.1 522.2,400.1 522.6,400.1 522.9,400.1 523.3,400.1 523.6,400.1 524.0,400.1 524.4,400.1 524.7,400.1 525.1,400.2 525.4,400.2 525.8,400.2 526.2,400.2 526.5,400.2 526.9,400.2 527.2,400.2 527.6,400.2 528.0,400.2 528.3,400.2 528.7,400.2 529.0,400.3 529.4,400.3 529.8,400.3 530.1,400.3 530.5,400.3 530.8,400.3 531.2,400.3 531.5,400.3 531.9,400.3 532.3,400.3 532.6,400.3 533.0,400.3 533.3,400.4 533.7,400.4 534.1,400.4 534.4,400.4 534.8,400.4 535.1,400.4 535.5,400.4 535.9,400.4 536.2,400.4 536.6,400.4 536.9,400.4 537.3,400.4"/>
</g>
<rect x="304.0" y="228.0" width="233.3" height="174.6" fill="none" stroke="#000" stroke-width="1.5"/>
<path d="M299.8,402.60H304.0 M301.5,385.14H304.0 M299.8,367.68H304.0 M301.5,350.22H304.0 M299.8,332.76H304.0 M301.5,315.30H304.0 M299.8,297.84H304.0 M301.5,280.38H304.0 M299.8,262.92H304.0 M301.5,245.46H304.0 M299.8,228.00H304.0 M321.95,402.6V406.40000000000003 M357.84,402.6V406.40000000000003 M393.73,402.6V406.40000000000003 M429.62,402.6V406.40000000000003 M465.52,402.6V406.40000000000003 M501.41,402.6V406.40000000000003 M537.30,402.6V406.40000000000003 M304.00,402.6V404.8 M339.89,402.6V404.8 M375.78,402.6V404.8 M411.68,402.6V404.8 M447.57,402.6V404.8 M483.46,402.6V404.8 M519.35,402.6V404.8" stroke="#000" stroke-width="1.2" fill="none"/>
<g font-family="'Liberation Serif', serif" font-weight="bold" font-size="8.5" fill="#000" stroke="#000" stroke-width="0.2">
<text x="296.0" y="405.5" text-anchor="end">0.0</text>
<text x="296.0" y="370.6" text-anchor="end">0.2</text>
<text x="296.0" y="335.7" text-anchor="end">0.4</text>
<text x="296.0" y="300.7" text-anchor="end">0.6</text>
<text x="296.0" y="265.8" text-anchor="end">0.8</text>
<text x="296.0" y="230.9" text-anchor="end">1.0</text>
<text x="321.9" y="415.7" text-anchor="middle">11</text>
<text x="357.8" y="415.7" text-anchor="middle">12</text>
<text x="393.7" y="415.7" text-anchor="middle">13</text>
<text x="429.6" y="415.7" text-anchor="middle">14</text>
<text x="465.5" y="415.7" text-anchor="middle">15</text>
<text x="501.4" y="415.7" text-anchor="middle">16</text>
<text x="537.3" y="415.7" text-anchor="middle">17</text>
</g>
<text x="420.1" y="427.9" text-anchor="middle" font-family="'Liberation Serif', serif" font-weight="bold" font-size="10.7" fill="#000" stroke="#000" stroke-width="0.2">Wavelength (µm)</text>
<text transform="translate(274.5,311.5) rotate(-90)" text-anchor="middle" font-family="'Liberation Serif', serif" font-weight="bold" font-size="9.7" fill="#000" stroke="#000" stroke-width="0.2">Absorption</text>
<g font-family="'Liberation Serif', serif" font-weight="bold" font-size="7.35" fill="#000" stroke="#000" stroke-width="0.2">
<line x1="306.9" y1="247.7" x2="324.5" y2="247.7" stroke="#ee1c25" stroke-width="1.6"/>
<text x="325.7" y="250.1">0.50 eV</text>
<line x1="306.9" y1="256.3" x2="324.5" y2="256.3" stroke="#17529c" stroke-width="1.6"/>
<text x="325.7" y="258.7">0.54 eV</text>
<line x1="306.9" y1="265.0" x2="324.5" y2="265.0" stroke="#fdb813" stroke-width="1.6"/>
<text x="325.7" y="267.4">0.58 eV</text>
<line x1="306.9" y1="273.6" x2="324.5" y2="273.6" stroke="#18b25a" stroke-width="1.6"/>
<text x="325.7" y="276.0">0.62 eV</text>
<line x1="306.9" y1="282.3" x2="324.5" y2="282.3" stroke="#55539f" stroke-width="1.6"/>
<text x="325.7" y="284.7">0.66 eV</text>
<line x1="306.9" y1="290.9" x2="324.5" y2="290.9" stroke="#151515" stroke-width="1.6"/>
<text x="325.7" y="293.3">0.70 eV</text>
</g>
</g>
<g font-family="'Liberation Serif', serif" font-size="15" fill="#000" stroke="#000" stroke-width="0.15">
<text x="110" y="459.8" text-anchor="middle">(a)</text>
<text x="404.3" y="459.8" text-anchor="middle">(b)</text>
</g>
</svg>
</body></html>
